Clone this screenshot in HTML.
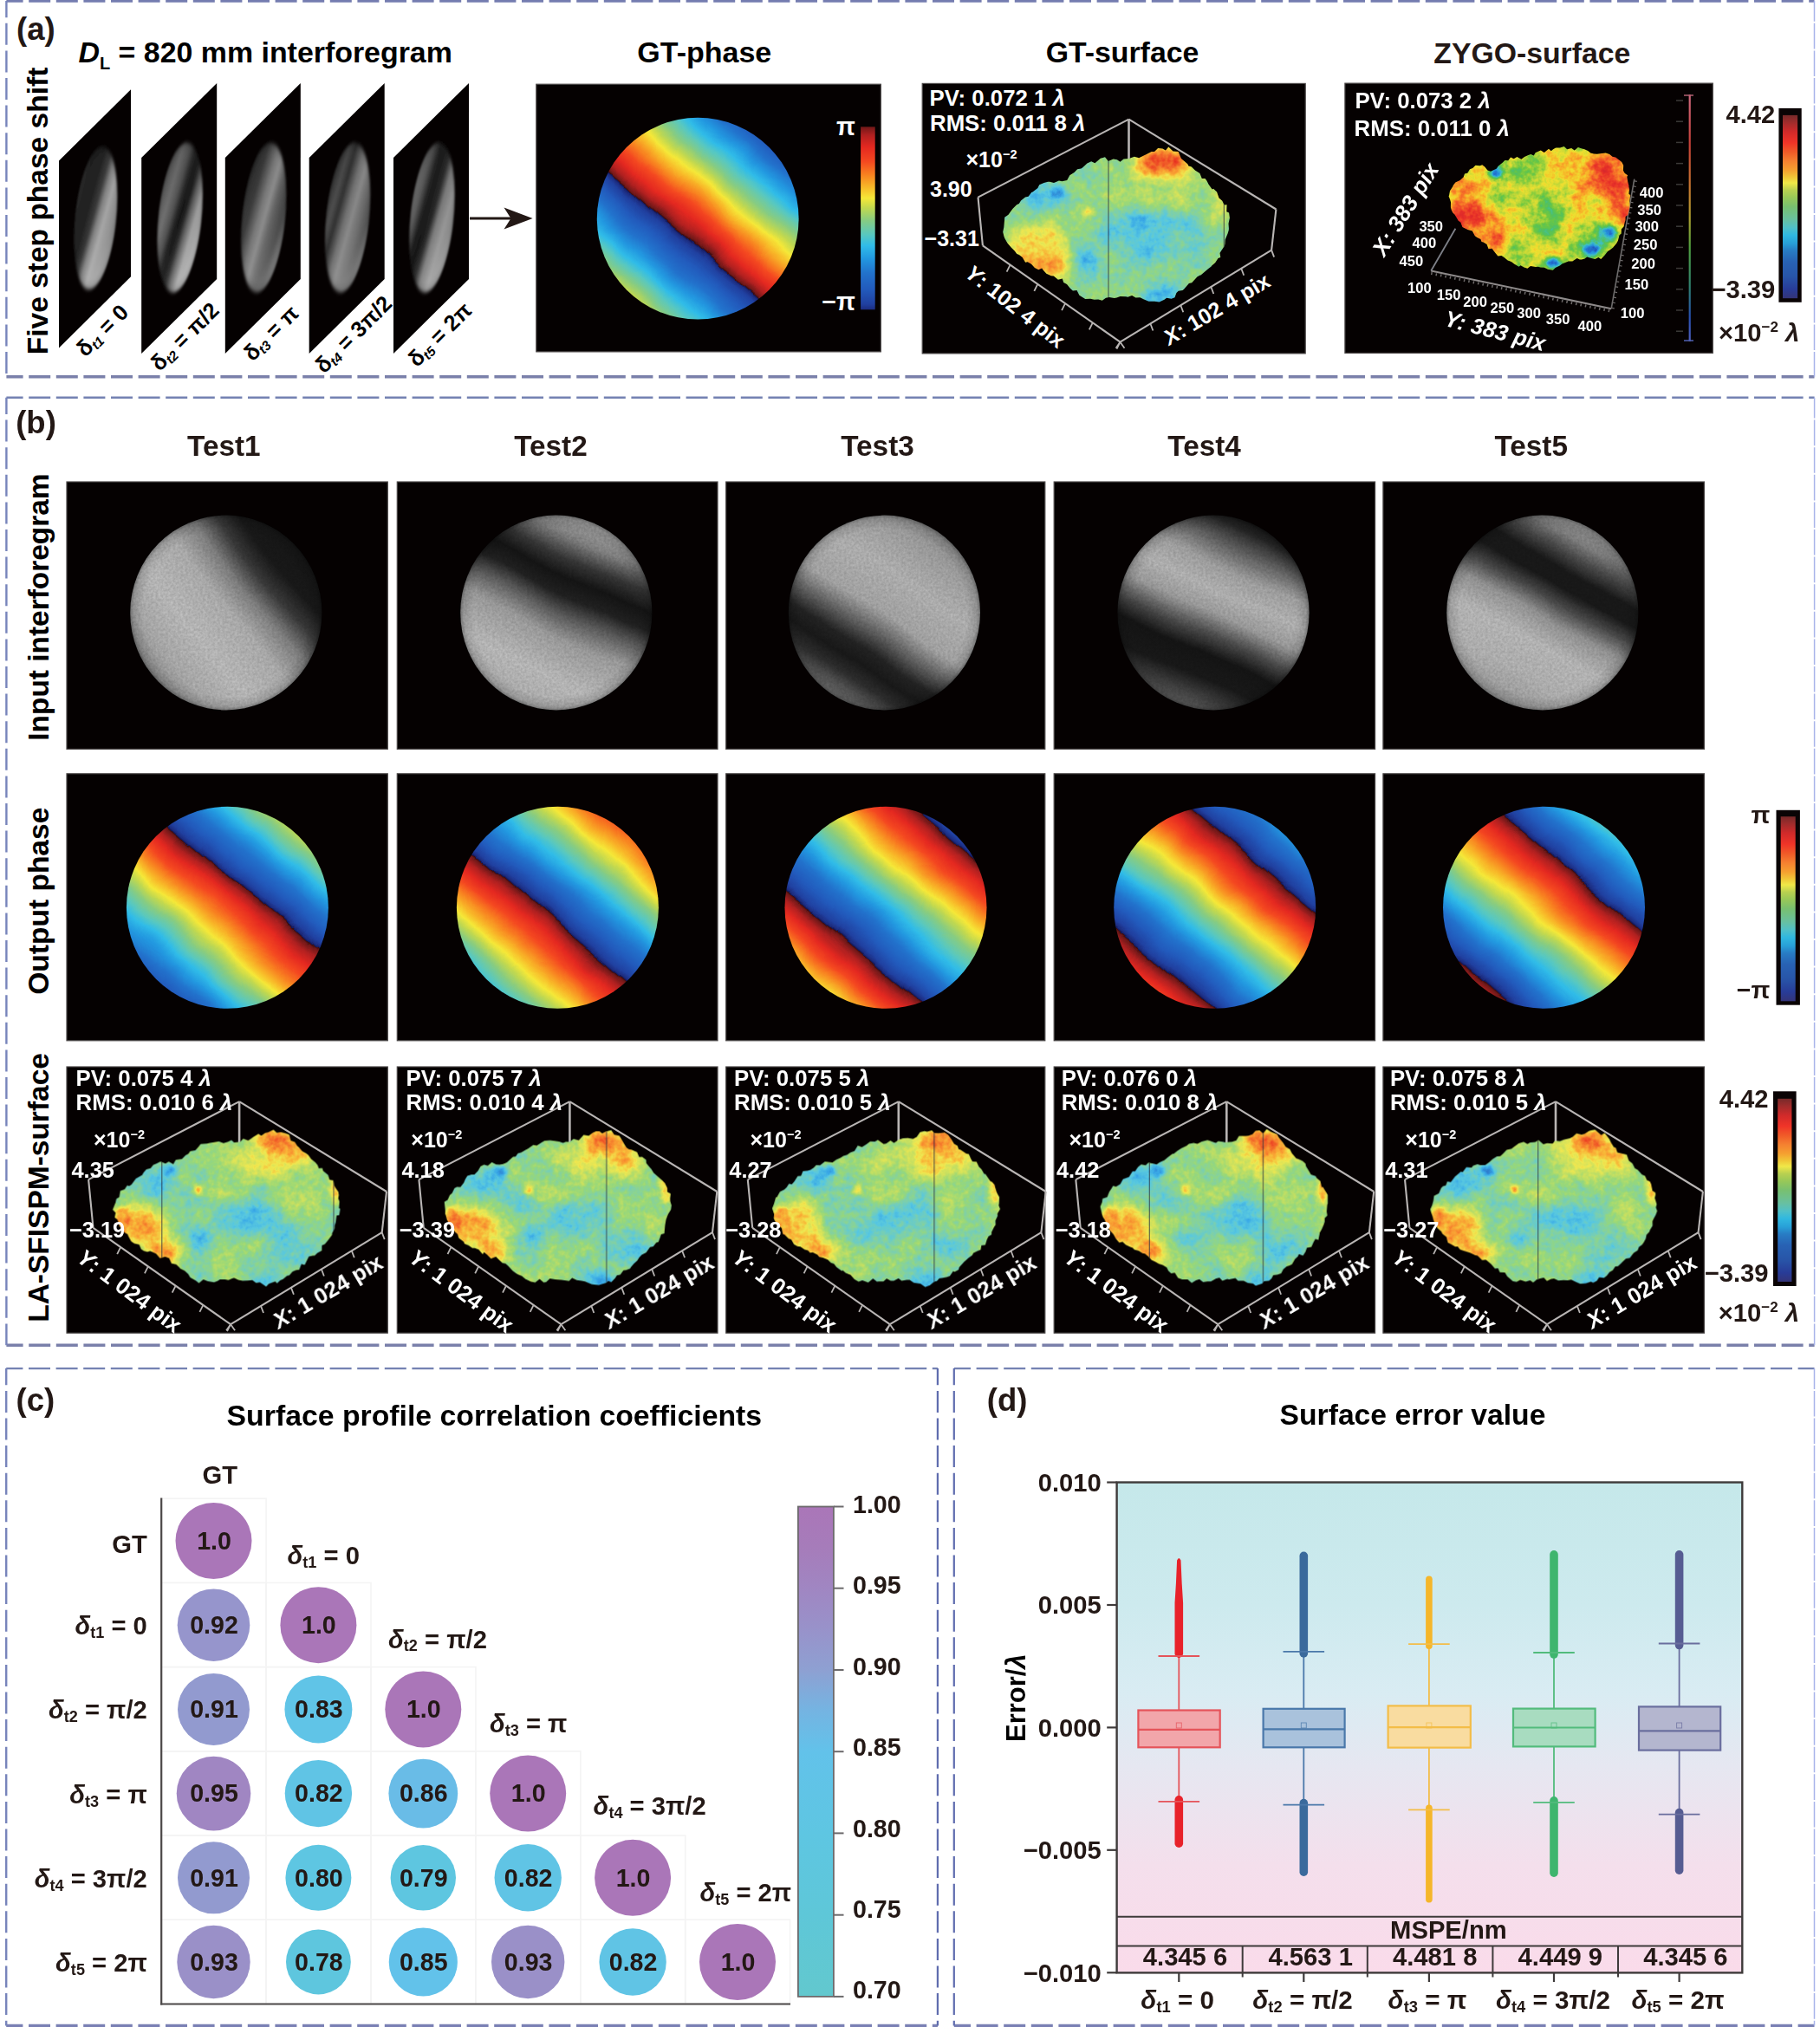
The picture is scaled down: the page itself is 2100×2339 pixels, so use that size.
<!DOCTYPE html>
<html lang="en"><head><meta charset="utf-8"><title>Figure</title>
<style>
html,body{margin:0;padding:0;background:#fff;}
svg{display:block;font-family:"Liberation Sans", sans-serif;}
text{font-family:"Liberation Sans", sans-serif;}
</style></head><body>
<svg width="2100" height="2339" viewBox="0 0 2100 2339">
<defs>
<linearGradient id="cbJet" x1="0" y1="0" x2="0" y2="1"><stop offset="0.000" stop-color="#782a2a"/><stop offset="0.040" stop-color="#a02c2c"/><stop offset="0.090" stop-color="#d02a2a"/><stop offset="0.150" stop-color="#f03428"/><stop offset="0.200" stop-color="#f05a28"/><stop offset="0.250" stop-color="#f58030"/><stop offset="0.300" stop-color="#f5a030"/><stop offset="0.340" stop-color="#f0c838"/><stop offset="0.370" stop-color="#f0e848"/><stop offset="0.410" stop-color="#b8d050"/><stop offset="0.450" stop-color="#98c858"/><stop offset="0.500" stop-color="#78c070"/><stop offset="0.570" stop-color="#68c0a0"/><stop offset="0.615" stop-color="#50c0c8"/><stop offset="0.655" stop-color="#30b8e0"/><stop offset="0.700" stop-color="#28a0d8"/><stop offset="0.740" stop-color="#287cc4"/><stop offset="0.800" stop-color="#2862b4"/><stop offset="0.880" stop-color="#2855a8"/><stop offset="0.950" stop-color="#283c98"/><stop offset="1.000" stop-color="#343478"/></linearGradient>
<linearGradient id="cbPh" x1="0" y1="0" x2="0" y2="1"><stop offset="0.000" stop-color="#701818"/><stop offset="0.045" stop-color="#b02020"/><stop offset="0.110" stop-color="#e42820"/><stop offset="0.190" stop-color="#f44820"/><stop offset="0.260" stop-color="#f88020"/><stop offset="0.330" stop-color="#f8b828"/><stop offset="0.390" stop-color="#f5e838"/><stop offset="0.445" stop-color="#c0d850"/><stop offset="0.510" stop-color="#88cc80"/><stop offset="0.590" stop-color="#58c8c0"/><stop offset="0.650" stop-color="#30bce8"/><stop offset="0.720" stop-color="#2298e0"/><stop offset="0.800" stop-color="#2272cc"/><stop offset="0.890" stop-color="#225abc"/><stop offset="0.970" stop-color="#2040a0"/><stop offset="1.000" stop-color="#1c2c80"/></linearGradient>
<linearGradient id="igT1" x1="0.106" y1="0.808" x2="0.894" y2="0.192"><stop offset="0" stop-color="#888888"/><stop offset="0.12" stop-color="#a4a4a4"/><stop offset="0.3" stop-color="#b4b4b4"/><stop offset="0.52" stop-color="#a8a8a8"/><stop offset="0.66" stop-color="#7c7c7c"/><stop offset="0.77" stop-color="#383838"/><stop offset="0.87" stop-color="#181818"/><stop offset="1" stop-color="#161616"/></linearGradient>
<linearGradient id="igT2" x1="0.289" y1="0.953" x2="0.711" y2="0.047"><stop offset="0" stop-color="#a8a8a8"/><stop offset="0.2" stop-color="#b4b4b4"/><stop offset="0.4" stop-color="#989898"/><stop offset="0.52" stop-color="#585858"/><stop offset="0.61" stop-color="#202020"/><stop offset="0.7" stop-color="#141414"/><stop offset="0.79" stop-color="#343434"/><stop offset="0.9" stop-color="#808080"/><stop offset="1" stop-color="#989898"/></linearGradient>
<linearGradient id="igT3" x1="0.228" y1="0.919" x2="0.772" y2="0.081"><stop offset="0" stop-color="#6c6c6c"/><stop offset="0.05" stop-color="#545454"/><stop offset="0.12" stop-color="#2c2c2c"/><stop offset="0.2" stop-color="#181818"/><stop offset="0.28" stop-color="#222222"/><stop offset="0.38" stop-color="#5c5c5c"/><stop offset="0.5" stop-color="#a0a0a0"/><stop offset="0.7" stop-color="#acacac"/><stop offset="0.9" stop-color="#989898"/><stop offset="1" stop-color="#848484"/></linearGradient>
<linearGradient id="igT4" x1="0.289" y1="0.953" x2="0.711" y2="0.047"><stop offset="0" stop-color="#5a5a5a"/><stop offset="0.07" stop-color="#3c3c3c"/><stop offset="0.16" stop-color="#181818"/><stop offset="0.28" stop-color="#141414"/><stop offset="0.38" stop-color="#484848"/><stop offset="0.5" stop-color="#989898"/><stop offset="0.62" stop-color="#aeaeae"/><stop offset="0.74" stop-color="#9c9c9c"/><stop offset="0.86" stop-color="#585858"/><stop offset="0.95" stop-color="#242424"/><stop offset="1" stop-color="#181818"/></linearGradient>
<linearGradient id="igT5" x1="0.250" y1="0.933" x2="0.750" y2="0.067"><stop offset="0" stop-color="#989898"/><stop offset="0.16" stop-color="#acacac"/><stop offset="0.34" stop-color="#b2b2b2"/><stop offset="0.48" stop-color="#909090"/><stop offset="0.58" stop-color="#484848"/><stop offset="0.67" stop-color="#181818"/><stop offset="0.76" stop-color="#181818"/><stop offset="0.85" stop-color="#484848"/><stop offset="0.93" stop-color="#7c7c7c"/><stop offset="1" stop-color="#8c8c8c"/></linearGradient>
<linearGradient id="igA1" x1="0.179" y1="0.883" x2="0.821" y2="0.117"><stop offset="0" stop-color="#505050"/><stop offset="0.15" stop-color="#808080"/><stop offset="0.32" stop-color="#a4a4a4"/><stop offset="0.45" stop-color="#808080"/><stop offset="0.56" stop-color="#383838"/><stop offset="0.7" stop-color="#1e1e1e"/><stop offset="0.9" stop-color="#202020"/><stop offset="1" stop-color="#383838"/></linearGradient>
<linearGradient id="igA2" x1="0.179" y1="0.883" x2="0.821" y2="0.117"><stop offset="0" stop-color="#808080"/><stop offset="0.2" stop-color="#949494"/><stop offset="0.33" stop-color="#585858"/><stop offset="0.42" stop-color="#202020"/><stop offset="0.5" stop-color="#161616"/><stop offset="0.58" stop-color="#242424"/><stop offset="0.68" stop-color="#505050"/><stop offset="0.82" stop-color="#747474"/><stop offset="1" stop-color="#606060"/></linearGradient>
<linearGradient id="igA3" x1="0.179" y1="0.883" x2="0.821" y2="0.117"><stop offset="0" stop-color="#282828"/><stop offset="0.15" stop-color="#2c2c2c"/><stop offset="0.35" stop-color="#606060"/><stop offset="0.48" stop-color="#8c8c8c"/><stop offset="0.6" stop-color="#787878"/><stop offset="0.8" stop-color="#3a3a3a"/><stop offset="1" stop-color="#303030"/></linearGradient>
<linearGradient id="igA4" x1="0.179" y1="0.883" x2="0.821" y2="0.117"><stop offset="0" stop-color="#282828"/><stop offset="0.1" stop-color="#303030"/><stop offset="0.25" stop-color="#606060"/><stop offset="0.42" stop-color="#888888"/><stop offset="0.55" stop-color="#707070"/><stop offset="0.72" stop-color="#2c2c2c"/><stop offset="0.85" stop-color="#505050"/><stop offset="1" stop-color="#383838"/></linearGradient>
<linearGradient id="igA5" x1="0.179" y1="0.883" x2="0.821" y2="0.117"><stop offset="0" stop-color="#585858"/><stop offset="0.22" stop-color="#8c8c8c"/><stop offset="0.38" stop-color="#787878"/><stop offset="0.5" stop-color="#282828"/><stop offset="0.62" stop-color="#161616"/><stop offset="0.72" stop-color="#1c1c1c"/><stop offset="0.86" stop-color="#606060"/><stop offset="1" stop-color="#848484"/></linearGradient>
<radialGradient id="vig" cx="0.5" cy="0.5" r="0.5"><stop offset="0" stop-color="#000" stop-opacity="0"/><stop offset="0.86" stop-color="#000" stop-opacity="0"/><stop offset="0.96" stop-color="#000" stop-opacity="0.12"/><stop offset="1" stop-color="#000" stop-opacity="0.35"/></radialGradient>
<filter id="grain" x="0" y="0" width="1" height="1" color-interpolation-filters="sRGB"><feTurbulence type="fractalNoise" baseFrequency="0.35" numOctaves="2" seed="4" result="n"/><feColorMatrix in="n" type="matrix" values="1 0 0 0 0 1 0 0 0 0 1 0 0 0 0 0 0 0 0 1" result="g"/><feComposite in="SourceGraphic" in2="g" operator="arithmetic" k1="0.24" k2="0.88" k3="0" k4="0" result="c"/><feComposite in="c" in2="SourceGraphic" operator="in"/></filter>
<filter id="wav1" x="-0.05" y="-0.05" width="1.1" height="1.1" color-interpolation-filters="sRGB"><feTurbulence type="fractalNoise" baseFrequency="0.012" numOctaves="3" seed="7" result="n"/><feDisplacementMap in="SourceGraphic" in2="n" scale="16" xChannelSelector="R" yChannelSelector="G"/></filter>
<filter id="wav2" x="-0.05" y="-0.05" width="1.1" height="1.1" color-interpolation-filters="sRGB"><feTurbulence type="fractalNoise" baseFrequency="0.012" numOctaves="3" seed="12" result="n"/><feDisplacementMap in="SourceGraphic" in2="n" scale="16" xChannelSelector="R" yChannelSelector="G"/></filter>
<filter id="wav3" x="-0.05" y="-0.05" width="1.1" height="1.1" color-interpolation-filters="sRGB"><feTurbulence type="fractalNoise" baseFrequency="0.012" numOctaves="3" seed="17" result="n"/><feDisplacementMap in="SourceGraphic" in2="n" scale="16" xChannelSelector="R" yChannelSelector="G"/></filter>
<filter id="wav4" x="-0.05" y="-0.05" width="1.1" height="1.1" color-interpolation-filters="sRGB"><feTurbulence type="fractalNoise" baseFrequency="0.012" numOctaves="3" seed="22" result="n"/><feDisplacementMap in="SourceGraphic" in2="n" scale="16" xChannelSelector="R" yChannelSelector="G"/></filter>
<filter id="wav5" x="-0.05" y="-0.05" width="1.1" height="1.1" color-interpolation-filters="sRGB"><feTurbulence type="fractalNoise" baseFrequency="0.012" numOctaves="3" seed="27" result="n"/><feDisplacementMap in="SourceGraphic" in2="n" scale="16" xChannelSelector="R" yChannelSelector="G"/></filter>
<filter id="wav6" x="-0.05" y="-0.05" width="1.1" height="1.1" color-interpolation-filters="sRGB"><feTurbulence type="fractalNoise" baseFrequency="0.012" numOctaves="3" seed="32" result="n"/><feDisplacementMap in="SourceGraphic" in2="n" scale="16" xChannelSelector="R" yChannelSelector="G"/></filter>
<filter id="wav7" x="-0.05" y="-0.05" width="1.1" height="1.1" color-interpolation-filters="sRGB"><feTurbulence type="fractalNoise" baseFrequency="0.012" numOctaves="3" seed="37" result="n"/><feDisplacementMap in="SourceGraphic" in2="n" scale="16" xChannelSelector="R" yChannelSelector="G"/></filter>
<filter id="wavI1" x="-0.05" y="-0.05" width="1.1" height="1.1" color-interpolation-filters="sRGB"><feTurbulence type="fractalNoise" baseFrequency="0.007" numOctaves="2" seed="4" result="n"/><feDisplacementMap in="SourceGraphic" in2="n" scale="18" xChannelSelector="R" yChannelSelector="G"/></filter>
<filter id="wavI2" x="-0.05" y="-0.05" width="1.1" height="1.1" color-interpolation-filters="sRGB"><feTurbulence type="fractalNoise" baseFrequency="0.007" numOctaves="2" seed="7" result="n"/><feDisplacementMap in="SourceGraphic" in2="n" scale="18" xChannelSelector="R" yChannelSelector="G"/></filter>
<filter id="wavI3" x="-0.05" y="-0.05" width="1.1" height="1.1" color-interpolation-filters="sRGB"><feTurbulence type="fractalNoise" baseFrequency="0.007" numOctaves="2" seed="10" result="n"/><feDisplacementMap in="SourceGraphic" in2="n" scale="18" xChannelSelector="R" yChannelSelector="G"/></filter>
<filter id="wavI4" x="-0.05" y="-0.05" width="1.1" height="1.1" color-interpolation-filters="sRGB"><feTurbulence type="fractalNoise" baseFrequency="0.007" numOctaves="2" seed="13" result="n"/><feDisplacementMap in="SourceGraphic" in2="n" scale="18" xChannelSelector="R" yChannelSelector="G"/></filter>
<filter id="wavI5" x="-0.05" y="-0.05" width="1.1" height="1.1" color-interpolation-filters="sRGB"><feTurbulence type="fractalNoise" baseFrequency="0.007" numOctaves="2" seed="16" result="n"/><feDisplacementMap in="SourceGraphic" in2="n" scale="18" xChannelSelector="R" yChannelSelector="G"/></filter>
<linearGradient id="tipA" x1="0.7" y1="0" x2="0.3" y2="1"><stop offset="0" stop-color="#000" stop-opacity="0.25"/><stop offset="0.5" stop-color="#888" stop-opacity="0"/><stop offset="0.8" stop-color="#fff" stop-opacity="0.18"/><stop offset="1" stop-color="#fff" stop-opacity="0.5"/></linearGradient>
<filter id="blurA" x="-0.1" y="-0.1" width="1.2" height="1.2"><feGaussianBlur stdDeviation="5 3"/></filter>
<linearGradient id="pgGT" gradientUnits="userSpaceOnUse" spreadMethod="repeat" x1="788.6" y1="272.1" x2="683.7" y2="398.0"><stop offset="0" stop-color="#141450"/><stop offset="0.012" stop-color="#1c2c80"/><stop offset="0.041" stop-color="#2040a0"/><stop offset="0.119" stop-color="#225abc"/><stop offset="0.207" stop-color="#2272cc"/><stop offset="0.285" stop-color="#2298e0"/><stop offset="0.354" stop-color="#30bce8"/><stop offset="0.412" stop-color="#58c8c0"/><stop offset="0.490" stop-color="#88cc80"/><stop offset="0.554" stop-color="#c0d850"/><stop offset="0.607" stop-color="#f5e838"/><stop offset="0.666" stop-color="#f8b828"/><stop offset="0.734" stop-color="#f88020"/><stop offset="0.803" stop-color="#f44820"/><stop offset="0.881" stop-color="#e42820"/><stop offset="0.944" stop-color="#b02020"/><stop offset="0.988" stop-color="#701818"/><stop offset="1" stop-color="#3a0c10"/></linearGradient>
<clipPath id="pcpgGT"><circle cx="805.2" cy="252.2" r="116.4"/></clipPath>
<filter id="cmS1" x="0" y="0" width="1" height="1" color-interpolation-filters="sRGB"><feTurbulence type="fractalNoise" baseFrequency="0.03" numOctaves="2" seed="8" result="n"/><feColorMatrix in="n" type="matrix" values="1 0 0 0 0 1 0 0 0 0 1 0 0 0 0 0 0 0 0 1" result="g"/><feTurbulence type="fractalNoise" baseFrequency="0.16" numOctaves="2" seed="9" result="n2"/><feColorMatrix in="n2" type="matrix" values="1 0 0 0 0 1 0 0 0 0 1 0 0 0 0 0 0 0 0 1" result="g2"/><feComposite in="SourceGraphic" in2="g" operator="arithmetic" k1="0" k2="1" k3="0.22" k4="-0.110" result="h1"/><feComposite in="h1" in2="g2" operator="arithmetic" k1="0" k2="1" k3="0.16" k4="-0.080" result="h"/><feComponentTransfer in="h"><feFuncR type="table" tableValues="0.165 0.163 0.162 0.161 0.159 0.158 0.159 0.172 0.186 0.199 0.213 0.236 0.272 0.308 0.344 0.388 0.433 0.477 0.517 0.552 0.586 0.640 0.700 0.760 0.819 0.876 0.934 0.951 0.963 0.973 0.973 0.973 0.963 0.952 0.940 0.927 0.913 0.834 0.731 0.627"/><feFuncG type="table" tableValues="0.227 0.258 0.289 0.320 0.351 0.382 0.416 0.470 0.523 0.577 0.630 0.676 0.711 0.747 0.783 0.793 0.802 0.811 0.821 0.832 0.844 0.854 0.864 0.874 0.885 0.897 0.908 0.850 0.781 0.712 0.645 0.578 0.500 0.420 0.340 0.273 0.206 0.171 0.148 0.125"/><feFuncB type="table" tableValues="0.565 0.597 0.629 0.661 0.693 0.726 0.758 0.791 0.825 0.859 0.892 0.906 0.897 0.888 0.879 0.818 0.756 0.693 0.628 0.559 0.490 0.449 0.419 0.389 0.363 0.340 0.317 0.284 0.249 0.218 0.204 0.191 0.179 0.168 0.156 0.143 0.129 0.125 0.125 0.125"/></feComponentTransfer></filter>
<filter id="cmS2" x="0" y="0" width="1" height="1" color-interpolation-filters="sRGB"><feTurbulence type="fractalNoise" baseFrequency="0.03" numOctaves="2" seed="15" result="n"/><feColorMatrix in="n" type="matrix" values="1 0 0 0 0 1 0 0 0 0 1 0 0 0 0 0 0 0 0 1" result="g"/><feTurbulence type="fractalNoise" baseFrequency="0.16" numOctaves="2" seed="16" result="n2"/><feColorMatrix in="n2" type="matrix" values="1 0 0 0 0 1 0 0 0 0 1 0 0 0 0 0 0 0 0 1" result="g2"/><feComposite in="SourceGraphic" in2="g" operator="arithmetic" k1="0" k2="1" k3="0.22" k4="-0.110" result="h1"/><feComposite in="h1" in2="g2" operator="arithmetic" k1="0" k2="1" k3="0.16" k4="-0.080" result="h"/><feComponentTransfer in="h"><feFuncR type="table" tableValues="0.165 0.163 0.162 0.161 0.159 0.158 0.159 0.172 0.186 0.199 0.213 0.236 0.272 0.308 0.344 0.388 0.433 0.477 0.517 0.552 0.586 0.640 0.700 0.760 0.819 0.876 0.934 0.951 0.963 0.973 0.973 0.973 0.963 0.952 0.940 0.927 0.913 0.834 0.731 0.627"/><feFuncG type="table" tableValues="0.227 0.258 0.289 0.320 0.351 0.382 0.416 0.470 0.523 0.577 0.630 0.676 0.711 0.747 0.783 0.793 0.802 0.811 0.821 0.832 0.844 0.854 0.864 0.874 0.885 0.897 0.908 0.850 0.781 0.712 0.645 0.578 0.500 0.420 0.340 0.273 0.206 0.171 0.148 0.125"/><feFuncB type="table" tableValues="0.565 0.597 0.629 0.661 0.693 0.726 0.758 0.791 0.825 0.859 0.892 0.906 0.897 0.888 0.879 0.818 0.756 0.693 0.628 0.559 0.490 0.449 0.419 0.389 0.363 0.340 0.317 0.284 0.249 0.218 0.204 0.191 0.179 0.168 0.156 0.143 0.129 0.125 0.125 0.125"/></feComponentTransfer></filter>
<filter id="cmS3" x="0" y="0" width="1" height="1" color-interpolation-filters="sRGB"><feTurbulence type="fractalNoise" baseFrequency="0.03" numOctaves="2" seed="22" result="n"/><feColorMatrix in="n" type="matrix" values="1 0 0 0 0 1 0 0 0 0 1 0 0 0 0 0 0 0 0 1" result="g"/><feTurbulence type="fractalNoise" baseFrequency="0.16" numOctaves="2" seed="23" result="n2"/><feColorMatrix in="n2" type="matrix" values="1 0 0 0 0 1 0 0 0 0 1 0 0 0 0 0 0 0 0 1" result="g2"/><feComposite in="SourceGraphic" in2="g" operator="arithmetic" k1="0" k2="1" k3="0.22" k4="-0.110" result="h1"/><feComposite in="h1" in2="g2" operator="arithmetic" k1="0" k2="1" k3="0.16" k4="-0.080" result="h"/><feComponentTransfer in="h"><feFuncR type="table" tableValues="0.165 0.163 0.162 0.161 0.159 0.158 0.159 0.172 0.186 0.199 0.213 0.236 0.272 0.308 0.344 0.388 0.433 0.477 0.517 0.552 0.586 0.640 0.700 0.760 0.819 0.876 0.934 0.951 0.963 0.973 0.973 0.973 0.963 0.952 0.940 0.927 0.913 0.834 0.731 0.627"/><feFuncG type="table" tableValues="0.227 0.258 0.289 0.320 0.351 0.382 0.416 0.470 0.523 0.577 0.630 0.676 0.711 0.747 0.783 0.793 0.802 0.811 0.821 0.832 0.844 0.854 0.864 0.874 0.885 0.897 0.908 0.850 0.781 0.712 0.645 0.578 0.500 0.420 0.340 0.273 0.206 0.171 0.148 0.125"/><feFuncB type="table" tableValues="0.565 0.597 0.629 0.661 0.693 0.726 0.758 0.791 0.825 0.859 0.892 0.906 0.897 0.888 0.879 0.818 0.756 0.693 0.628 0.559 0.490 0.449 0.419 0.389 0.363 0.340 0.317 0.284 0.249 0.218 0.204 0.191 0.179 0.168 0.156 0.143 0.129 0.125 0.125 0.125"/></feComponentTransfer></filter>
<filter id="cmS4" x="0" y="0" width="1" height="1" color-interpolation-filters="sRGB"><feTurbulence type="fractalNoise" baseFrequency="0.03" numOctaves="2" seed="29" result="n"/><feColorMatrix in="n" type="matrix" values="1 0 0 0 0 1 0 0 0 0 1 0 0 0 0 0 0 0 0 1" result="g"/><feTurbulence type="fractalNoise" baseFrequency="0.16" numOctaves="2" seed="30" result="n2"/><feColorMatrix in="n2" type="matrix" values="1 0 0 0 0 1 0 0 0 0 1 0 0 0 0 0 0 0 0 1" result="g2"/><feComposite in="SourceGraphic" in2="g" operator="arithmetic" k1="0" k2="1" k3="0.22" k4="-0.110" result="h1"/><feComposite in="h1" in2="g2" operator="arithmetic" k1="0" k2="1" k3="0.16" k4="-0.080" result="h"/><feComponentTransfer in="h"><feFuncR type="table" tableValues="0.165 0.163 0.162 0.161 0.159 0.158 0.159 0.172 0.186 0.199 0.213 0.236 0.272 0.308 0.344 0.388 0.433 0.477 0.517 0.552 0.586 0.640 0.700 0.760 0.819 0.876 0.934 0.951 0.963 0.973 0.973 0.973 0.963 0.952 0.940 0.927 0.913 0.834 0.731 0.627"/><feFuncG type="table" tableValues="0.227 0.258 0.289 0.320 0.351 0.382 0.416 0.470 0.523 0.577 0.630 0.676 0.711 0.747 0.783 0.793 0.802 0.811 0.821 0.832 0.844 0.854 0.864 0.874 0.885 0.897 0.908 0.850 0.781 0.712 0.645 0.578 0.500 0.420 0.340 0.273 0.206 0.171 0.148 0.125"/><feFuncB type="table" tableValues="0.565 0.597 0.629 0.661 0.693 0.726 0.758 0.791 0.825 0.859 0.892 0.906 0.897 0.888 0.879 0.818 0.756 0.693 0.628 0.559 0.490 0.449 0.419 0.389 0.363 0.340 0.317 0.284 0.249 0.218 0.204 0.191 0.179 0.168 0.156 0.143 0.129 0.125 0.125 0.125"/></feComponentTransfer></filter>
<filter id="cmS5" x="0" y="0" width="1" height="1" color-interpolation-filters="sRGB"><feTurbulence type="fractalNoise" baseFrequency="0.03" numOctaves="2" seed="36" result="n"/><feColorMatrix in="n" type="matrix" values="1 0 0 0 0 1 0 0 0 0 1 0 0 0 0 0 0 0 0 1" result="g"/><feTurbulence type="fractalNoise" baseFrequency="0.16" numOctaves="2" seed="37" result="n2"/><feColorMatrix in="n2" type="matrix" values="1 0 0 0 0 1 0 0 0 0 1 0 0 0 0 0 0 0 0 1" result="g2"/><feComposite in="SourceGraphic" in2="g" operator="arithmetic" k1="0" k2="1" k3="0.22" k4="-0.110" result="h1"/><feComposite in="h1" in2="g2" operator="arithmetic" k1="0" k2="1" k3="0.16" k4="-0.080" result="h"/><feComponentTransfer in="h"><feFuncR type="table" tableValues="0.165 0.163 0.162 0.161 0.159 0.158 0.159 0.172 0.186 0.199 0.213 0.236 0.272 0.308 0.344 0.388 0.433 0.477 0.517 0.552 0.586 0.640 0.700 0.760 0.819 0.876 0.934 0.951 0.963 0.973 0.973 0.973 0.963 0.952 0.940 0.927 0.913 0.834 0.731 0.627"/><feFuncG type="table" tableValues="0.227 0.258 0.289 0.320 0.351 0.382 0.416 0.470 0.523 0.577 0.630 0.676 0.711 0.747 0.783 0.793 0.802 0.811 0.821 0.832 0.844 0.854 0.864 0.874 0.885 0.897 0.908 0.850 0.781 0.712 0.645 0.578 0.500 0.420 0.340 0.273 0.206 0.171 0.148 0.125"/><feFuncB type="table" tableValues="0.565 0.597 0.629 0.661 0.693 0.726 0.758 0.791 0.825 0.859 0.892 0.906 0.897 0.888 0.879 0.818 0.756 0.693 0.628 0.559 0.490 0.449 0.419 0.389 0.363 0.340 0.317 0.284 0.249 0.218 0.204 0.191 0.179 0.168 0.156 0.143 0.129 0.125 0.125 0.125"/></feComponentTransfer></filter>
<filter id="cmS6" x="0" y="0" width="1" height="1" color-interpolation-filters="sRGB"><feTurbulence type="fractalNoise" baseFrequency="0.03" numOctaves="2" seed="43" result="n"/><feColorMatrix in="n" type="matrix" values="1 0 0 0 0 1 0 0 0 0 1 0 0 0 0 0 0 0 0 1" result="g"/><feTurbulence type="fractalNoise" baseFrequency="0.16" numOctaves="2" seed="44" result="n2"/><feColorMatrix in="n2" type="matrix" values="1 0 0 0 0 1 0 0 0 0 1 0 0 0 0 0 0 0 0 1" result="g2"/><feComposite in="SourceGraphic" in2="g" operator="arithmetic" k1="0" k2="1" k3="0.22" k4="-0.110" result="h1"/><feComposite in="h1" in2="g2" operator="arithmetic" k1="0" k2="1" k3="0.16" k4="-0.080" result="h"/><feComponentTransfer in="h"><feFuncR type="table" tableValues="0.165 0.163 0.162 0.161 0.159 0.158 0.159 0.172 0.186 0.199 0.213 0.236 0.272 0.308 0.344 0.388 0.433 0.477 0.517 0.552 0.586 0.640 0.700 0.760 0.819 0.876 0.934 0.951 0.963 0.973 0.973 0.973 0.963 0.952 0.940 0.927 0.913 0.834 0.731 0.627"/><feFuncG type="table" tableValues="0.227 0.258 0.289 0.320 0.351 0.382 0.416 0.470 0.523 0.577 0.630 0.676 0.711 0.747 0.783 0.793 0.802 0.811 0.821 0.832 0.844 0.854 0.864 0.874 0.885 0.897 0.908 0.850 0.781 0.712 0.645 0.578 0.500 0.420 0.340 0.273 0.206 0.171 0.148 0.125"/><feFuncB type="table" tableValues="0.565 0.597 0.629 0.661 0.693 0.726 0.758 0.791 0.825 0.859 0.892 0.906 0.897 0.888 0.879 0.818 0.756 0.693 0.628 0.559 0.490 0.449 0.419 0.389 0.363 0.340 0.317 0.284 0.249 0.218 0.204 0.191 0.179 0.168 0.156 0.143 0.129 0.125 0.125 0.125"/></feComponentTransfer></filter>
<filter id="cmZ" x="0" y="0" width="1" height="1" color-interpolation-filters="sRGB"><feTurbulence type="fractalNoise" baseFrequency="0.05" numOctaves="2" seed="11" result="n"/><feColorMatrix in="n" type="matrix" values="1 0 0 0 0 1 0 0 0 0 1 0 0 0 0 0 0 0 0 1" result="g"/><feTurbulence type="fractalNoise" baseFrequency="0.2" numOctaves="2" seed="12" result="n2"/><feColorMatrix in="n2" type="matrix" values="1 0 0 0 0 1 0 0 0 0 1 0 0 0 0 0 0 0 0 1" result="g2"/><feComposite in="SourceGraphic" in2="g" operator="arithmetic" k1="0" k2="1" k3="0.34" k4="-0.170" result="h1"/><feComposite in="h1" in2="g2" operator="arithmetic" k1="0" k2="1" k3="0.18" k4="-0.090" result="h"/><feComponentTransfer in="h"><feFuncR type="table" tableValues="0.125 0.125 0.125 0.125 0.125 0.125 0.126 0.133 0.140 0.147 0.153 0.169 0.196 0.223 0.250 0.268 0.286 0.304 0.334 0.380 0.426 0.512 0.612 0.713 0.794 0.863 0.932 0.951 0.963 0.973 0.973 0.973 0.963 0.952 0.940 0.927 0.913 0.893 0.870 0.847"/><feFuncG type="table" tableValues="0.188 0.215 0.242 0.269 0.295 0.322 0.353 0.407 0.460 0.514 0.568 0.617 0.662 0.706 0.751 0.753 0.753 0.753 0.758 0.770 0.781 0.799 0.819 0.839 0.854 0.865 0.877 0.818 0.749 0.679 0.598 0.518 0.447 0.378 0.310 0.256 0.203 0.180 0.168 0.157"/><feFuncB type="table" tableValues="0.565 0.597 0.629 0.661 0.693 0.726 0.757 0.784 0.811 0.837 0.864 0.862 0.826 0.790 0.754 0.650 0.543 0.435 0.356 0.310 0.264 0.244 0.234 0.224 0.213 0.201 0.190 0.178 0.167 0.157 0.157 0.157 0.157 0.157 0.157 0.157 0.157 0.161 0.167 0.173"/></feComponentTransfer></filter>
<filter id="hb" x="-0.5" y="-0.5" width="2" height="2"><feGaussianBlur stdDeviation="8"/></filter>
<filter id="hbs" x="-0.5" y="-0.5" width="2" height="2"><feGaussianBlur stdDeviation="3"/></filter>
<filter id="hbz" x="-0.5" y="-0.5" width="2" height="2"><feGaussianBlur stdDeviation="8"/></filter>
<clipPath id="blob6"><path d="M54.4 164.4 L55.1 156.4 L55.3 152.9 L59.6 149.8 L62.1 146.3 L64.7 142.9 L69.2 138.4 L71.9 137.0 L74.1 133.7 L79.1 129.6 L82.7 128.8 L86.3 124.2 L87.7 123.6 L93.5 119.2 L95.3 115.4 L100.6 113.1 L105.2 111.9 L107.3 111.9 L112.1 113.0 L118.0 110.7 L121.5 111.3 L127.3 110.0 L130.4 104.4 L135.6 101.2 L139.2 97.3 L143.6 96.6 L145.7 95.1 L150.5 90.7 L155.3 88.3 L159.5 90.3 L165.9 84.8 L171.1 83.4 L174.9 88.0 L180.7 85.5 L185.0 86.3 L188.6 88.8 L192.6 85.7 L198.9 85.2 L204.9 82.9 L210.3 84.4 L214.8 82.2 L219.5 79.8 L224.8 77.2 L228.1 77.1 L232.2 73.0 L237.5 73.5 L241.0 75.7 L244.4 71.7 L249.6 76.5 L255.7 77.1 L259.1 85.1 L261.8 87.4 L266.4 91.3 L267.5 93.5 L271.0 94.7 L275.0 98.7 L280.5 102.0 L282.9 108.0 L286.6 108.0 L288.5 110.6 L290.8 115.0 L294.8 120.7 L296.2 119.8 L300.2 123.6 L302.6 130.6 L306.4 133.9 L308.7 138.7 L311.7 138.3 L311.4 146.3 L314.2 147.5 L315.0 153.7 L314.4 156.3 L313.6 160.1 L314.0 165.6 L313.9 167.6 L312.7 171.7 L309.8 178.6 L309.5 184.1 L308.4 186.9 L305.3 191.3 L303.6 194.0 L304.4 199.1 L301.6 200.1 L298.4 205.0 L294.1 208.9 L293.7 209.7 L290.1 212.4 L285.4 216.4 L281.6 219.5 L281.0 219.7 L277.7 221.4 L274.2 225.0 L271.3 228.4 L268.0 229.2 L262.4 235.6 L260.7 237.0 L255.8 237.9 L253.5 240.0 L251.6 245.3 L247.7 246.9 L242.2 245.8 L239.6 247.8 L233.7 250.6 L228.2 249.8 L221.6 249.8 L216.1 247.6 L211.5 245.4 L206.5 245.7 L202.2 243.0 L197.4 244.9 L195.1 244.4 L188.7 244.2 L184.6 245.7 L181.9 246.0 L175.9 245.1 L172.1 245.9 L167.9 248.8 L163.3 247.6 L158.8 247.9 L154.1 246.9 L148.3 247.1 L141.5 242.8 L138.6 237.2 L134.0 237.7 L130.7 234.6 L127.1 230.1 L123.3 228.1 L121.9 223.7 L117.0 224.9 L111.9 220.6 L108.9 220.3 L103.5 217.8 L99.6 213.5 L98.3 211.6 L94.4 213.4 L90.0 211.1 L86.1 206.8 L81.8 204.3 L79.2 204.9 L75.8 199.0 L72.0 196.0 L69.4 195.1 L66.8 191.7 L63.0 187.8 L58.5 182.6 L55.4 177.2 L54.6 175.0 L53.3 169.9Z"/></clipPath>
<clipPath id="blobZ"><path d="M1671.6 226.4 L1672.1 225.0 L1673.0 220.2 L1676.3 215.2 L1676.7 213.9 L1679.3 210.4 L1684.7 208.1 L1688.6 204.4 L1690.0 200.4 L1693.2 199.8 L1696.0 195.3 L1699.3 193.9 L1702.5 190.8 L1707.7 191.3 L1710.3 190.3 L1713.2 192.4 L1716.4 196.4 L1720.0 197.7 L1725.5 195.3 L1726.9 194.5 L1728.6 191.7 L1733.3 187.9 L1736.4 185.0 L1740.2 185.2 L1743.1 181.4 L1746.7 183.2 L1750.4 181.0 L1755.4 183.7 L1759.0 181.0 L1763.4 179.1 L1766.5 177.9 L1769.7 179.4 L1771.6 176.2 L1777.8 173.6 L1781.8 176.0 L1787.0 171.8 L1789.7 174.3 L1792.1 172.2 L1795.1 170.4 L1800.0 170.6 L1804.8 168.9 L1808.2 172.3 L1813.3 171.0 L1816.7 173.4 L1820.9 169.9 L1825.3 171.4 L1828.3 172.3 L1832.2 174.0 L1835.2 176.5 L1839.0 177.4 L1842.7 177.7 L1848.4 176.9 L1852.7 176.6 L1857.2 177.9 L1860.5 180.7 L1864.1 181.5 L1868.4 184.7 L1871.2 187.1 L1873.2 190.7 L1872.9 196.8 L1874.8 199.9 L1878.2 202.3 L1877.3 204.0 L1878.1 208.9 L1879.5 214.7 L1879.3 214.9 L1880.1 218.4 L1879.4 223.6 L1881.2 225.2 L1880.2 232.2 L1880.5 235.4 L1880.4 239.1 L1879.0 245.3 L1878.4 248.1 L1875.6 250.1 L1875.5 254.1 L1874.5 257.2 L1873.7 261.2 L1870.8 264.5 L1870.7 269.5 L1868.6 271.3 L1866.9 277.7 L1865.1 281.1 L1861.9 284.7 L1861.1 285.8 L1857.4 288.6 L1855.1 289.9 L1851.2 295.0 L1847.2 299.0 L1844.4 297.0 L1840.5 298.9 L1836.1 298.1 L1831.2 296.6 L1828.6 298.6 L1824.9 299.4 L1822.8 299.5 L1819.7 298.1 L1814.3 301.4 L1809.7 301.5 L1802.4 304.5 L1799.9 306.4 L1794.7 309.0 L1791.9 311.7 L1786.0 310.7 L1781.9 308.8 L1777.3 308.5 L1774.8 307.7 L1771.9 308.1 L1766.0 307.1 L1762.4 309.8 L1758.5 308.5 L1754.5 306.2 L1752.6 307.7 L1747.4 304.8 L1743.8 302.0 L1739.7 300.5 L1735.5 297.1 L1732.4 294.9 L1728.3 295.4 L1723.5 289.4 L1721.5 286.7 L1717.5 287.2 L1715.6 282.0 L1711.6 279.5 L1709.5 278.9 L1708.4 276.1 L1705.1 274.5 L1701.8 272.2 L1698.8 266.6 L1693.4 264.9 L1690.3 263.4 L1687.4 261.9 L1685.3 256.5 L1682.7 254.7 L1681.3 252.2 L1678.6 247.8 L1676.3 245.5 L1674.8 242.5 L1673.9 239.3 L1674.0 233.2 L1673.0 230.1Z"/></clipPath>
<linearGradient id="zl" x1="0" y1="0" x2="0" y2="1"><stop offset="0" stop-color="#d06a80"/><stop offset="0.2" stop-color="#c84038"/><stop offset="0.38" stop-color="#c87830"/><stop offset="0.5" stop-color="#b0a030"/><stop offset="0.62" stop-color="#50a040"/><stop offset="0.78" stop-color="#308070"/><stop offset="0.9" stop-color="#2850b0"/><stop offset="1" stop-color="#5060c0"/></linearGradient>
<linearGradient id="iguT1" gradientUnits="userSpaceOnUse" x1="173.6" y1="775.1" x2="347.9" y2="638.9"><stop offset="0" stop-color="#888888"/><stop offset="0.12" stop-color="#a4a4a4"/><stop offset="0.3" stop-color="#b4b4b4"/><stop offset="0.52" stop-color="#a8a8a8"/><stop offset="0.66" stop-color="#7c7c7c"/><stop offset="0.77" stop-color="#383838"/><stop offset="0.87" stop-color="#181818"/><stop offset="1" stop-color="#161616"/></linearGradient>
<clipPath id="icT1"><ellipse cx="260.8" cy="707.0" rx="110.6" ry="112.4"/></clipPath>
<linearGradient id="iguT2" gradientUnits="userSpaceOnUse" x1="595.0" y1="807.2" x2="688.5" y2="606.8"><stop offset="0" stop-color="#a8a8a8"/><stop offset="0.2" stop-color="#b4b4b4"/><stop offset="0.4" stop-color="#989898"/><stop offset="0.52" stop-color="#585858"/><stop offset="0.61" stop-color="#202020"/><stop offset="0.7" stop-color="#141414"/><stop offset="0.79" stop-color="#343434"/><stop offset="0.9" stop-color="#808080"/><stop offset="1" stop-color="#989898"/></linearGradient>
<clipPath id="icT2"><ellipse cx="641.8" cy="707.0" rx="110.6" ry="112.4"/></clipPath>
<linearGradient id="iguT3" gradientUnits="userSpaceOnUse" x1="960.1" y1="799.8" x2="1080.6" y2="614.2"><stop offset="0" stop-color="#6c6c6c"/><stop offset="0.05" stop-color="#545454"/><stop offset="0.12" stop-color="#2c2c2c"/><stop offset="0.2" stop-color="#181818"/><stop offset="0.28" stop-color="#222222"/><stop offset="0.38" stop-color="#5c5c5c"/><stop offset="0.5" stop-color="#a0a0a0"/><stop offset="0.7" stop-color="#acacac"/><stop offset="0.9" stop-color="#989898"/><stop offset="1" stop-color="#848484"/></linearGradient>
<clipPath id="icT3"><ellipse cx="1020.4" cy="707.0" rx="110.6" ry="112.4"/></clipPath>
<linearGradient id="iguT4" gradientUnits="userSpaceOnUse" x1="1353.3" y1="807.2" x2="1446.7" y2="606.8"><stop offset="0" stop-color="#5a5a5a"/><stop offset="0.07" stop-color="#3c3c3c"/><stop offset="0.16" stop-color="#181818"/><stop offset="0.28" stop-color="#141414"/><stop offset="0.38" stop-color="#484848"/><stop offset="0.5" stop-color="#989898"/><stop offset="0.62" stop-color="#aeaeae"/><stop offset="0.74" stop-color="#9c9c9c"/><stop offset="0.86" stop-color="#585858"/><stop offset="0.95" stop-color="#242424"/><stop offset="1" stop-color="#181818"/></linearGradient>
<clipPath id="icT4"><ellipse cx="1400.0" cy="707.0" rx="110.6" ry="112.4"/></clipPath>
<linearGradient id="iguT5" gradientUnits="userSpaceOnUse" x1="1724.5" y1="802.8" x2="1835.0" y2="611.2"><stop offset="0" stop-color="#989898"/><stop offset="0.16" stop-color="#acacac"/><stop offset="0.34" stop-color="#b2b2b2"/><stop offset="0.48" stop-color="#909090"/><stop offset="0.58" stop-color="#484848"/><stop offset="0.67" stop-color="#181818"/><stop offset="0.76" stop-color="#181818"/><stop offset="0.85" stop-color="#484848"/><stop offset="0.93" stop-color="#7c7c7c"/><stop offset="1" stop-color="#8c8c8c"/></linearGradient>
<clipPath id="icT5"><ellipse cx="1779.8" cy="707.0" rx="110.6" ry="112.4"/></clipPath>
<linearGradient id="pg0" gradientUnits="userSpaceOnUse" spreadMethod="repeat" x1="280.9" y1="1025.2" x2="385.8" y2="899.2"><stop offset="0" stop-color="#141450"/><stop offset="0.012" stop-color="#1c2c80"/><stop offset="0.041" stop-color="#2040a0"/><stop offset="0.119" stop-color="#225abc"/><stop offset="0.207" stop-color="#2272cc"/><stop offset="0.285" stop-color="#2298e0"/><stop offset="0.354" stop-color="#30bce8"/><stop offset="0.412" stop-color="#58c8c0"/><stop offset="0.490" stop-color="#88cc80"/><stop offset="0.554" stop-color="#c0d850"/><stop offset="0.607" stop-color="#f5e838"/><stop offset="0.666" stop-color="#f8b828"/><stop offset="0.734" stop-color="#f88020"/><stop offset="0.803" stop-color="#f44820"/><stop offset="0.881" stop-color="#e42820"/><stop offset="0.944" stop-color="#b02020"/><stop offset="0.988" stop-color="#701818"/><stop offset="1" stop-color="#3a0c10"/></linearGradient>
<clipPath id="pcpg0"><circle cx="262.4" cy="1047.3" r="116.5"/></clipPath>
<linearGradient id="pg1" gradientUnits="userSpaceOnUse" spreadMethod="repeat" x1="634.2" y1="1058.4" x2="739.1" y2="932.5"><stop offset="0" stop-color="#141450"/><stop offset="0.012" stop-color="#1c2c80"/><stop offset="0.041" stop-color="#2040a0"/><stop offset="0.119" stop-color="#225abc"/><stop offset="0.207" stop-color="#2272cc"/><stop offset="0.285" stop-color="#2298e0"/><stop offset="0.354" stop-color="#30bce8"/><stop offset="0.412" stop-color="#58c8c0"/><stop offset="0.490" stop-color="#88cc80"/><stop offset="0.554" stop-color="#c0d850"/><stop offset="0.607" stop-color="#f5e838"/><stop offset="0.666" stop-color="#f8b828"/><stop offset="0.734" stop-color="#f88020"/><stop offset="0.803" stop-color="#f44820"/><stop offset="0.881" stop-color="#e42820"/><stop offset="0.944" stop-color="#b02020"/><stop offset="0.988" stop-color="#701818"/><stop offset="1" stop-color="#3a0c10"/></linearGradient>
<clipPath id="pcpg1"><circle cx="643.4" cy="1047.3" r="116.5"/></clipPath>
<linearGradient id="pg2" gradientUnits="userSpaceOnUse" spreadMethod="repeat" x1="985.8" y1="1090.8" x2="1090.8" y2="964.8"><stop offset="0" stop-color="#141450"/><stop offset="0.012" stop-color="#1c2c80"/><stop offset="0.041" stop-color="#2040a0"/><stop offset="0.119" stop-color="#225abc"/><stop offset="0.207" stop-color="#2272cc"/><stop offset="0.285" stop-color="#2298e0"/><stop offset="0.354" stop-color="#30bce8"/><stop offset="0.412" stop-color="#58c8c0"/><stop offset="0.490" stop-color="#88cc80"/><stop offset="0.554" stop-color="#c0d850"/><stop offset="0.607" stop-color="#f5e838"/><stop offset="0.666" stop-color="#f8b828"/><stop offset="0.734" stop-color="#f88020"/><stop offset="0.803" stop-color="#f44820"/><stop offset="0.881" stop-color="#e42820"/><stop offset="0.944" stop-color="#b02020"/><stop offset="0.988" stop-color="#701818"/><stop offset="1" stop-color="#3a0c10"/></linearGradient>
<clipPath id="pcpg2"><circle cx="1022.0" cy="1047.3" r="116.5"/></clipPath>
<linearGradient id="pg3" gradientUnits="userSpaceOnUse" spreadMethod="repeat" x1="1447.6" y1="992.2" x2="1552.5" y2="866.3"><stop offset="0" stop-color="#141450"/><stop offset="0.012" stop-color="#1c2c80"/><stop offset="0.041" stop-color="#2040a0"/><stop offset="0.119" stop-color="#225abc"/><stop offset="0.207" stop-color="#2272cc"/><stop offset="0.285" stop-color="#2298e0"/><stop offset="0.354" stop-color="#30bce8"/><stop offset="0.412" stop-color="#58c8c0"/><stop offset="0.490" stop-color="#88cc80"/><stop offset="0.554" stop-color="#c0d850"/><stop offset="0.607" stop-color="#f5e838"/><stop offset="0.666" stop-color="#f8b828"/><stop offset="0.734" stop-color="#f88020"/><stop offset="0.803" stop-color="#f44820"/><stop offset="0.881" stop-color="#e42820"/><stop offset="0.944" stop-color="#b02020"/><stop offset="0.988" stop-color="#701818"/><stop offset="1" stop-color="#3a0c10"/></linearGradient>
<clipPath id="pcpg3"><circle cx="1401.7" cy="1047.3" r="116.5"/></clipPath>
<linearGradient id="pg4" gradientUnits="userSpaceOnUse" spreadMethod="repeat" x1="1814.3" y1="1007.8" x2="1919.3" y2="881.9"><stop offset="0" stop-color="#141450"/><stop offset="0.012" stop-color="#1c2c80"/><stop offset="0.041" stop-color="#2040a0"/><stop offset="0.119" stop-color="#225abc"/><stop offset="0.207" stop-color="#2272cc"/><stop offset="0.285" stop-color="#2298e0"/><stop offset="0.354" stop-color="#30bce8"/><stop offset="0.412" stop-color="#58c8c0"/><stop offset="0.490" stop-color="#88cc80"/><stop offset="0.554" stop-color="#c0d850"/><stop offset="0.607" stop-color="#f5e838"/><stop offset="0.666" stop-color="#f8b828"/><stop offset="0.734" stop-color="#f88020"/><stop offset="0.803" stop-color="#f44820"/><stop offset="0.881" stop-color="#e42820"/><stop offset="0.944" stop-color="#b02020"/><stop offset="0.988" stop-color="#701818"/><stop offset="1" stop-color="#3a0c10"/></linearGradient>
<clipPath id="pcpg4"><circle cx="1781.5" cy="1047.3" r="116.5"/></clipPath>
<clipPath id="blob1"><path d="M52.5 164.5 L55.9 156.3 L56.8 151.9 L60.1 150.0 L61.3 142.8 L66.3 141.1 L69.3 136.4 L71.6 137.2 L74.2 135.5 L79.4 128.5 L80.4 128.1 L86.6 124.4 L88.1 121.8 L91.3 118.1 L96.2 116.8 L99.4 112.8 L103.1 111.3 L107.6 108.9 L113.5 111.2 L117.2 109.1 L122.5 112.1 L125.3 106.9 L132.4 106.0 L136.6 101.8 L139.9 100.1 L141.9 96.9 L147.9 96.0 L151.1 92.6 L154.0 88.8 L161.2 88.2 L164.4 87.4 L170.9 86.6 L175.0 85.8 L180.4 87.8 L185.4 86.3 L189.6 84.2 L192.6 87.1 L199.6 86.2 L203.2 82.5 L208.9 84.8 L215.0 80.6 L220.7 77.0 L224.0 79.3 L228.4 75.9 L231.8 75.3 L238.1 72.3 L241.9 75.8 L246.5 75.1 L251.6 76.2 L256.2 77.9 L258.0 84.8 L262.7 86.4 L265.4 90.7 L267.8 92.9 L271.2 97.0 L275.7 99.5 L278.3 101.6 L281.5 106.1 L286.4 110.0 L289.0 113.0 L290.3 116.7 L294.4 116.6 L295.4 119.8 L301.1 124.5 L302.8 129.9 L307.0 130.8 L308.1 136.8 L309.7 139.3 L312.9 143.9 L313.4 147.7 L312.8 151.6 L314.2 154.9 L313.6 162.7 L315.0 163.6 L313.9 170.8 L310.9 171.3 L309.9 178.9 L308.6 183.1 L308.5 186.1 L305.6 191.9 L305.7 193.5 L302.4 197.9 L300.2 200.7 L297.3 204.2 L293.9 205.8 L293.8 211.8 L288.7 214.4 L285.5 217.5 L283.5 217.6 L278.9 218.4 L277.5 221.2 L274.1 228.3 L270.2 227.2 L267.8 233.7 L264.1 234.2 L260.0 236.1 L256.3 240.3 L253.7 240.7 L249.0 244.8 L245.8 245.9 L242.2 249.6 L240.1 247.3 L232.7 249.9 L229.6 253.2 L222.4 248.3 L218.0 249.1 L213.7 245.7 L208.6 246.3 L202.4 246.6 L197.4 245.6 L192.7 243.2 L190.8 243.7 L186.1 245.8 L182.0 245.0 L176.3 244.9 L173.5 246.7 L169.5 248.3 L162.2 247.0 L157.1 244.9 L152.0 249.3 L148.7 246.4 L142.0 242.7 L139.7 238.7 L135.6 235.1 L130.6 232.5 L129.3 231.0 L125.9 227.7 L120.4 226.4 L117.7 220.5 L113.0 218.8 L107.1 220.4 L103.1 215.7 L102.1 215.0 L95.8 212.2 L92.5 213.3 L88.3 212.0 L85.4 210.1 L83.1 204.7 L77.5 203.5 L73.8 201.1 L70.5 194.8 L70.0 193.0 L65.6 190.5 L62.0 184.3 L60.8 184.4 L58.1 176.0 L54.9 173.4 L56.0 168.1Z"/></clipPath>
<clipPath id="blob2"><path d="M54.9 165.0 L53.9 155.5 L57.7 153.3 L60.1 147.7 L62.8 145.5 L65.6 139.8 L68.4 138.3 L72.4 138.5 L76.3 133.6 L78.0 129.6 L80.4 125.6 L85.2 124.1 L88.6 124.0 L92.7 119.8 L95.7 114.5 L99.7 112.4 L104.0 113.8 L108.7 109.7 L113.6 112.3 L117.5 112.6 L121.8 111.8 L126.0 110.0 L133.1 103.4 L136.1 103.2 L138.8 99.5 L142.5 98.5 L146.8 95.9 L150.6 94.0 L156.5 89.8 L160.5 90.6 L166.0 87.1 L169.5 84.9 L175.9 84.5 L181.5 85.3 L186.5 85.9 L190.9 87.4 L193.9 86.2 L198.6 86.2 L203.0 82.7 L208.9 84.6 L214.6 78.3 L220.5 79.3 L225.1 75.7 L228.9 74.0 L232.9 73.9 L236.0 76.5 L239.9 74.4 L246.4 72.7 L249.9 77.9 L255.8 79.3 L257.9 82.4 L261.5 88.7 L264.1 92.9 L266.8 94.7 L269.7 95.3 L276.2 98.0 L278.7 103.8 L282.1 103.5 L286.7 106.9 L286.9 110.7 L291.4 116.2 L292.8 117.8 L295.4 121.9 L301.1 126.9 L305.1 130.5 L308.5 133.9 L309.0 135.3 L311.2 139.5 L311.2 143.9 L315.0 146.1 L314.4 151.6 L314.5 154.7 L316.0 159.6 L315.3 164.6 L312.2 169.6 L311.3 171.5 L309.6 176.2 L308.5 182.8 L308.0 188.2 L307.7 192.0 L304.0 193.1 L302.5 197.6 L300.9 201.8 L298.4 202.4 L294.9 206.9 L291.1 207.8 L289.0 210.8 L286.7 214.1 L281.7 216.5 L278.8 219.4 L276.5 223.2 L272.6 226.8 L269.2 230.7 L268.1 232.5 L263.4 234.2 L260.6 234.6 L256.9 239.6 L253.0 240.2 L251.0 243.4 L246.5 247.9 L243.0 246.8 L240.3 249.0 L232.2 251.6 L227.0 250.9 L223.8 250.5 L216.1 247.3 L212.2 246.4 L206.6 245.8 L201.3 243.3 L197.8 246.7 L192.7 246.1 L188.7 245.4 L185.0 245.2 L181.8 245.1 L175.7 244.1 L171.3 247.9 L168.6 248.6 L163.8 244.5 L158.7 248.5 L153.8 247.5 L147.4 244.6 L143.3 241.0 L139.0 239.2 L136.7 237.9 L133.0 235.2 L127.6 229.4 L124.6 226.7 L120.9 225.9 L118.0 223.3 L113.4 218.8 L107.8 221.0 L103.4 216.6 L99.5 213.4 L98.1 216.1 L93.6 210.4 L88.9 208.7 L86.2 208.7 L81.8 205.8 L77.1 203.8 L76.3 201.6 L70.6 197.2 L69.2 192.8 L66.5 190.5 L63.1 186.0 L61.1 183.5 L57.0 176.2 L55.5 170.6 L54.9 169.7Z"/></clipPath>
<clipPath id="blob3"><path d="M52.8 163.1 L54.8 158.0 L57.1 150.1 L58.2 150.2 L61.8 143.7 L66.8 141.3 L69.5 138.7 L72.2 134.4 L75.4 135.2 L78.3 131.9 L82.3 125.8 L86.1 125.5 L88.3 119.9 L93.7 119.4 L97.1 118.6 L100.8 116.1 L103.6 112.9 L108.0 113.3 L113.6 109.0 L115.7 109.3 L122.4 110.1 L126.8 106.7 L131.8 104.5 L134.9 102.6 L139.2 101.2 L143.0 98.5 L147.8 96.7 L151.6 90.5 L156.4 92.3 L161.5 88.9 L166.0 85.8 L171.3 86.1 L174.7 84.0 L181.4 88.8 L184.2 88.3 L189.4 84.8 L193.3 87.4 L199.3 83.5 L203.9 81.9 L209.5 81.7 L215.4 82.7 L219.6 80.6 L223.4 75.1 L228.5 73.8 L231.6 74.6 L237.1 73.0 L239.7 76.1 L244.8 76.2 L251.8 75.5 L255.9 78.3 L259.7 83.5 L262.7 88.5 L266.6 90.8 L268.0 94.7 L270.3 95.5 L276.7 99.8 L279.8 100.5 L282.2 106.1 L284.0 109.1 L288.6 109.3 L291.4 114.9 L294.4 117.9 L297.4 123.3 L299.0 123.6 L304.4 131.5 L306.8 132.7 L309.4 135.8 L310.3 139.5 L311.9 144.6 L313.3 147.3 L315.0 149.9 L314.6 157.6 L314.2 159.4 L315.9 163.8 L312.7 169.0 L312.9 171.7 L310.4 177.1 L310.6 181.9 L309.0 184.3 L305.9 190.4 L305.9 193.2 L302.4 195.3 L300.6 198.9 L298.7 205.2 L294.2 205.7 L293.4 210.7 L290.1 211.9 L285.0 214.4 L283.7 216.9 L279.2 220.3 L276.2 223.0 L274.4 224.4 L268.6 230.9 L267.9 233.8 L263.4 236.3 L261.6 235.5 L257.8 241.1 L254.4 242.2 L249.6 243.3 L245.6 243.8 L242.9 246.8 L239.8 247.5 L234.7 251.7 L229.4 253.7 L224.0 250.0 L216.1 248.7 L211.5 245.5 L208.0 245.5 L202.2 246.4 L198.5 243.8 L193.2 246.6 L189.6 246.5 L184.9 243.9 L181.2 247.2 L175.8 247.3 L173.7 247.6 L169.1 244.1 L163.6 248.5 L156.9 246.1 L152.5 247.6 L147.6 244.7 L143.3 239.8 L137.6 237.5 L134.3 234.4 L133.1 235.3 L127.0 230.7 L124.1 227.0 L120.6 225.7 L117.0 222.2 L111.6 219.9 L107.1 218.9 L105.1 216.4 L99.5 213.8 L96.6 214.3 L94.0 211.6 L90.3 210.6 L85.5 207.3 L81.9 206.7 L78.0 204.5 L74.9 199.1 L71.9 198.1 L67.3 193.6 L65.1 192.6 L63.8 185.8 L60.8 183.6 L56.1 177.7 L54.6 174.4 L55.1 169.7Z"/></clipPath>
<clipPath id="blob4"><path d="M52.8 161.0 L54.9 155.9 L55.5 151.7 L60.8 150.0 L63.3 143.7 L65.5 140.4 L67.6 136.9 L71.0 138.1 L75.9 134.9 L79.1 129.3 L81.2 128.5 L86.0 126.7 L90.0 120.2 L93.0 120.3 L96.4 115.3 L100.1 112.2 L105.2 113.2 L108.3 110.2 L113.7 111.3 L117.9 112.3 L121.1 110.0 L126.7 107.4 L130.8 104.1 L136.2 100.0 L137.6 99.9 L141.9 96.6 L146.7 93.6 L152.5 90.7 L155.1 88.6 L160.7 87.5 L164.9 88.4 L169.8 86.0 L176.5 84.2 L179.1 85.1 L186.1 87.4 L188.9 85.6 L193.0 85.9 L196.9 86.7 L204.7 86.3 L209.6 84.7 L212.9 79.4 L221.0 79.6 L223.7 79.3 L228.5 77.6 L231.9 73.5 L236.6 72.9 L240.7 76.5 L244.9 71.6 L249.4 74.5 L256.9 77.6 L258.7 81.1 L263.9 87.5 L264.5 88.6 L266.9 92.0 L271.6 94.8 L274.0 99.6 L278.9 105.3 L281.4 105.9 L286.1 108.2 L289.6 111.3 L290.3 114.6 L292.6 118.2 L296.0 124.0 L301.3 125.7 L302.6 128.1 L306.7 131.5 L308.3 138.4 L309.7 138.2 L313.5 144.4 L315.3 147.4 L315.3 152.9 L315.3 157.6 L314.7 158.8 L314.1 166.8 L314.8 171.3 L311.8 174.3 L311.8 178.6 L310.5 182.3 L308.5 186.8 L305.7 191.7 L306.1 191.4 L304.5 199.4 L301.0 198.2 L299.0 201.8 L296.5 207.6 L291.2 208.4 L289.7 213.0 L286.8 217.4 L282.0 215.7 L280.8 218.4 L277.5 221.6 L274.1 227.4 L271.1 229.0 L267.9 230.0 L264.0 233.3 L261.5 238.1 L257.0 239.6 L252.5 239.9 L250.4 244.0 L247.5 246.4 L241.6 247.1 L239.7 249.8 L232.1 252.3 L229.1 249.8 L223.0 249.1 L218.3 246.6 L211.7 246.4 L208.8 243.4 L201.4 244.9 L199.3 244.6 L193.7 246.5 L190.4 243.0 L186.4 243.9 L180.5 247.3 L176.5 247.3 L171.5 248.0 L167.3 244.8 L163.2 246.0 L158.3 249.1 L153.8 245.1 L147.3 245.0 L142.5 243.2 L138.9 237.3 L134.6 238.1 L131.4 234.9 L129.6 231.3 L125.1 228.4 L120.5 227.0 L116.7 224.8 L111.9 222.5 L109.0 219.1 L104.3 215.3 L101.5 214.7 L97.4 212.0 L92.0 210.4 L90.3 208.5 L86.9 207.3 L82.2 205.0 L78.6 201.6 L74.7 202.5 L70.9 197.9 L68.1 193.0 L64.0 188.4 L63.8 188.0 L60.5 183.6 L58.1 176.2 L56.0 172.9 L54.9 170.0Z"/></clipPath>
<clipPath id="blob5"><path d="M53.9 164.0 L56.0 159.6 L57.5 154.2 L58.3 148.4 L63.8 145.7 L66.5 139.6 L68.5 137.6 L71.9 136.4 L73.6 132.1 L77.6 132.7 L82.5 126.2 L86.2 123.3 L89.3 120.4 L91.2 121.3 L95.6 115.4 L101.6 115.9 L103.3 113.7 L108.3 112.0 L111.6 113.0 L117.3 112.9 L122.2 109.4 L126.0 106.1 L130.8 102.9 L134.8 102.7 L137.5 100.2 L142.0 95.5 L147.7 94.2 L150.5 92.1 L155.9 87.9 L161.7 86.3 L166.1 88.8 L169.0 87.1 L175.0 86.5 L178.9 84.3 L184.4 89.0 L188.8 87.7 L195.2 88.2 L197.8 85.0 L203.6 85.5 L207.8 83.7 L215.1 82.1 L218.3 80.4 L222.7 76.4 L228.5 78.1 L232.0 77.1 L236.9 73.8 L240.5 72.8 L244.1 72.3 L251.2 78.5 L255.1 76.1 L260.7 83.2 L262.2 86.6 L265.6 92.3 L268.1 93.2 L269.8 98.4 L274.0 99.6 L280.6 101.1 L283.1 107.9 L285.7 110.0 L287.1 111.1 L290.0 116.7 L293.3 118.4 L298.2 123.9 L301.7 125.5 L303.9 130.4 L307.4 131.9 L308.8 134.9 L310.3 142.7 L313.6 144.7 L313.9 147.1 L313.0 151.1 L315.3 158.2 L314.3 162.1 L315.8 166.0 L314.1 170.5 L311.9 174.6 L310.3 177.8 L310.4 183.1 L307.4 188.0 L306.8 190.0 L303.4 193.6 L302.5 198.0 L300.4 201.9 L298.3 205.0 L294.7 207.5 L293.2 211.6 L288.8 214.3 L287.1 216.3 L284.2 220.2 L279.7 220.9 L275.4 225.0 L274.5 226.0 L270.5 229.8 L267.4 229.9 L264.4 234.5 L260.8 236.4 L257.5 240.8 L254.3 243.2 L248.8 242.4 L246.2 246.6 L241.9 248.7 L239.3 247.5 L233.5 249.4 L226.9 250.0 L222.3 248.1 L216.6 245.3 L212.4 245.9 L207.8 245.8 L201.7 246.2 L196.8 244.1 L193.3 244.4 L188.5 246.7 L185.0 243.1 L181.4 243.7 L176.9 245.1 L172.7 248.4 L169.1 246.1 L164.1 247.5 L157.8 245.4 L153.5 247.8 L149.2 247.1 L142.8 241.4 L140.1 236.9 L134.2 236.8 L132.1 231.9 L128.6 232.6 L124.3 227.5 L120.3 224.0 L118.1 222.3 L113.8 222.7 L108.5 217.4 L105.8 217.0 L100.5 214.5 L98.4 213.7 L92.6 212.0 L88.4 210.6 L85.5 206.9 L82.8 207.3 L76.8 203.7 L74.3 202.5 L72.6 195.9 L67.9 192.3 L66.8 189.7 L62.8 186.3 L60.1 182.7 L57.5 176.0 L56.5 171.9 L54.7 167.1Z"/></clipPath>
<linearGradient id="cbC" x1="0" y1="0" x2="0" y2="1"><stop offset="-0.000" stop-color="#aa76b8"/><stop offset="0.083" stop-color="#a67cba"/><stop offset="0.167" stop-color="#a086c2"/><stop offset="0.250" stop-color="#9892ca"/><stop offset="0.333" stop-color="#8ea0d2"/><stop offset="0.417" stop-color="#74b4e2"/><stop offset="0.500" stop-color="#62c2ea"/><stop offset="0.667" stop-color="#5ec6e2"/><stop offset="0.833" stop-color="#5ec7d8"/><stop offset="1.000" stop-color="#62c8ce"/></linearGradient>
<linearGradient id="bgD" x1="0" y1="0" x2="0" y2="1"><stop offset="0" stop-color="#c5e8ea"/><stop offset="0.25" stop-color="#cdeaee"/><stop offset="0.43" stop-color="#d9ecf3"/><stop offset="0.58" stop-color="#e6e7f1"/><stop offset="0.78" stop-color="#f4dfec"/><stop offset="1" stop-color="#fadbea"/></linearGradient>
</defs>
<rect x="0" y="0" width="2100" height="2339" fill="#ffffff"/>
<line x1="7.4" y1="1.0" x2="2093.5" y2="1.0" stroke="#747cb0" stroke-width="3.4" stroke-dasharray="25 6.6" stroke-dashoffset="5.8"/>
<line x1="7.4" y1="434.7" x2="2093.5" y2="434.7" stroke="#7a80aa" stroke-width="3.6" stroke-dasharray="25 6.6" stroke-dashoffset="5.8"/>
<line x1="7.4" y1="1.0" x2="7.4" y2="434.7" stroke="#7784bb" stroke-width="2.4" stroke-dasharray="25 6.6" stroke-dashoffset="5.8"/>
<line x1="2093.5" y1="1.0" x2="2093.5" y2="434.7" stroke="#a9b4ea" stroke-width="1.5" stroke-dasharray="29.6 2" stroke-dashoffset="5.8"/>
<line x1="7.4" y1="458.8" x2="2093.6" y2="458.8" stroke="#7482b2" stroke-width="2.6" stroke-dasharray="25 6.6" stroke-dashoffset="5.8"/>
<line x1="7.4" y1="1552.2" x2="2093.6" y2="1552.2" stroke="#7a80aa" stroke-width="3.4" stroke-dasharray="25 6.6" stroke-dashoffset="5.8"/>
<line x1="7.4" y1="458.8" x2="7.4" y2="1552.2" stroke="#7784bb" stroke-width="2.4" stroke-dasharray="25 6.6" stroke-dashoffset="5.8"/>
<line x1="2093.6" y1="458.8" x2="2093.6" y2="1552.2" stroke="#a9b4ea" stroke-width="1.5" stroke-dasharray="29.6 2" stroke-dashoffset="5.8"/>
<line x1="7.2" y1="1579.1" x2="1081.9" y2="1579.1" stroke="#7482b2" stroke-width="2.4" stroke-dasharray="25 6.6" stroke-dashoffset="5.8"/>
<line x1="7.2" y1="2337.4" x2="1081.9" y2="2337.4" stroke="#7a80b4" stroke-width="3.4" stroke-dasharray="25 6.6" stroke-dashoffset="5.8"/>
<line x1="7.2" y1="1579.1" x2="7.2" y2="2337.4" stroke="#7784bb" stroke-width="2.4" stroke-dasharray="25 6.6" stroke-dashoffset="5.8"/>
<line x1="1081.9" y1="1579.1" x2="1081.9" y2="2337.4" stroke="#5f6cae" stroke-width="2.2" stroke-dasharray="25 6.6" stroke-dashoffset="5.8"/>
<line x1="1100.8" y1="1579.1" x2="2093.5" y2="1579.1" stroke="#7482b2" stroke-width="2.4" stroke-dasharray="25 6.6" stroke-dashoffset="5.8"/>
<line x1="1100.8" y1="2337.4" x2="2093.5" y2="2337.4" stroke="#7a80b4" stroke-width="3.4" stroke-dasharray="25 6.6" stroke-dashoffset="5.8"/>
<line x1="1100.8" y1="1579.1" x2="1100.8" y2="2337.4" stroke="#5f6cae" stroke-width="2.2" stroke-dasharray="25 6.6" stroke-dashoffset="5.8"/>
<line x1="2093.5" y1="1579.1" x2="2093.5" y2="2337.4" stroke="#a9b4ea" stroke-width="1.5" stroke-dasharray="29.6 2" stroke-dashoffset="5.8"/>
<text x="19.0" y="46.4" font-size="36.5" fill="#231815" font-weight="bold" >(a)</text>
<text x="90.5" y="72.3" font-size="33.9" fill="#000" font-weight="bold" ><tspan font-style="italic">D</tspan><tspan font-size="20" dy="7.5">L</tspan><tspan dy="-7.5"> = 820 mm interforegram</tspan></text>
<text x="55.5" y="409.2" font-size="33.5" fill="#000" font-weight="bold" transform="rotate(-90 55.5 409.2)" textLength="331.5" lengthAdjust="spacingAndGlyphs" >Five step phase shift</text>
<g transform="translate(68.0,185.5) skewY(-44.7) scale(0.2243,0.7013)">
<rect x="0" y="0" width="370.0" height="308.0" fill="#050101"/>
<g filter="url(#blurA)" transform="translate(370.0,0) scale(-1,1)">
<circle cx="181.0" cy="154.0" r="112" fill="url(#igA1)"/>
<circle cx="181.0" cy="154.0" r="112" fill="url(#tipA)"/>
<circle cx="181.0" cy="154.0" r="113" fill="url(#vig)"/>
</g></g>
<g transform="translate(163.2,182.0) skewY(-44.7) scale(0.2351,0.7338)">
<rect x="0" y="0" width="370.0" height="308.0" fill="#050101"/>
<g filter="url(#blurA)" transform="translate(370.0,0) scale(-1,1)">
<circle cx="181.0" cy="154.0" r="112" fill="url(#igA2)"/>
<circle cx="181.0" cy="154.0" r="112" fill="url(#tipA)"/>
<circle cx="181.0" cy="154.0" r="113" fill="url(#vig)"/>
</g></g>
<g transform="translate(259.8,182.0) skewY(-44.7) scale(0.2351,0.7338)">
<rect x="0" y="0" width="370.0" height="308.0" fill="#050101"/>
<g filter="url(#blurA)" transform="translate(370.0,0) scale(-1,1)">
<circle cx="181.0" cy="154.0" r="112" fill="url(#igA3)"/>
<circle cx="181.0" cy="154.0" r="112" fill="url(#tipA)"/>
<circle cx="181.0" cy="154.0" r="113" fill="url(#vig)"/>
</g></g>
<g transform="translate(356.7,182.0) skewY(-44.7) scale(0.2351,0.7338)">
<rect x="0" y="0" width="370.0" height="308.0" fill="#050101"/>
<g filter="url(#blurA)" transform="translate(370.0,0) scale(-1,1)">
<circle cx="181.0" cy="154.0" r="112" fill="url(#igA4)"/>
<circle cx="181.0" cy="154.0" r="112" fill="url(#tipA)"/>
<circle cx="181.0" cy="154.0" r="113" fill="url(#vig)"/>
</g></g>
<g transform="translate(454.0,182.0) skewY(-44.7) scale(0.2351,0.7338)">
<rect x="0" y="0" width="370.0" height="308.0" fill="#050101"/>
<g filter="url(#blurA)" transform="translate(370.0,0) scale(-1,1)">
<circle cx="181.0" cy="154.0" r="112" fill="url(#igA5)"/>
<circle cx="181.0" cy="154.0" r="112" fill="url(#tipA)"/>
<circle cx="181.0" cy="154.0" r="113" fill="url(#vig)"/>
</g></g>
<text x="98.6" y="413.1" font-size="25.5" fill="#000" font-weight="bold" transform="rotate(-45 98.6 413.1)" >δ<tspan font-size="0.6em" dy="0.2em" font-style="italic">t1</tspan><tspan dy="-0.120em"> = 0</tspan></text>
<text x="184.3" y="429.6" font-size="25.5" fill="#000" font-weight="bold" transform="rotate(-45 184.3 429.6)" >δ<tspan font-size="0.6em" dy="0.2em" font-style="italic">t2</tspan><tspan dy="-0.120em"> = π/2</tspan></text>
<text x="291.4" y="418.0" font-size="25.5" fill="#000" font-weight="bold" transform="rotate(-45 291.4 418.0)" >δ<tspan font-size="0.6em" dy="0.2em" font-style="italic">t3</tspan><tspan dy="-0.120em"> = π</tspan></text>
<text x="373.9" y="432.0" font-size="25.5" fill="#000" font-weight="bold" transform="rotate(-45 373.9 432.0)" >δ<tspan font-size="0.6em" dy="0.2em" font-style="italic">t4</tspan><tspan dy="-0.120em"> = 3π/2</tspan></text>
<text x="481.2" y="424.7" font-size="25.5" fill="#000" font-weight="bold" transform="rotate(-45 481.2 424.7)" >δ<tspan font-size="0.6em" dy="0.2em" font-style="italic">t5</tspan><tspan dy="-0.120em"> = 2π</tspan></text>
<line x1="542" y1="252" x2="596" y2="252" stroke="#231815" stroke-width="3.2"/>
<path d="M614.6 252 L581.5 239.6 L589.5 252 L581.5 264.6 Z" fill="#231815"/>
<text x="812.8" y="72.4" font-size="33.3" fill="#000" font-weight="bold" text-anchor="middle" textLength="155.0" lengthAdjust="spacingAndGlyphs" >GT-phase</text>
<rect x="618.8" y="97.2" width="397.5" height="308.7" fill="#050101" stroke="#4a4646" stroke-width="1.2"/>
<g clip-path="url(#pcpgGT)"><rect x="674.8" y="121.8" width="260.8" height="260.8" fill="url(#pgGT)" filter="url(#wav6)"/></g>
<rect x="993.1" y="146.3" width="16.6" height="211" fill="url(#cbPh)"/>
<text x="986.8" y="155.7" font-size="28.6" fill="#fff" font-weight="bold" text-anchor="end" >π</text>
<text x="986.8" y="357.8" font-size="28.6" fill="#fff" font-weight="bold" text-anchor="end" >−π</text>
<text x="1295.0" y="72.2" font-size="33.3" fill="#000" font-weight="bold" text-anchor="middle" textLength="176.6" lengthAdjust="spacingAndGlyphs" >GT-surface</text>
<rect x="1064.2" y="96.4" width="442.0" height="311.5" fill="#050101" stroke="#4a4646" stroke-width="1.2"/>
<g transform="translate(1103.9,97.9)">
<line x1="198.6" y1="39.7" x2="24.6" y2="129.7" stroke="#b9b5b4" stroke-width="2.1"/>
<line x1="198.6" y1="39.7" x2="368.5" y2="143.6" stroke="#b9b5b4" stroke-width="2.1"/>
<line x1="24.6" y1="129.7" x2="30.0" y2="185.4" stroke="#b9b5b4" stroke-width="2.1"/>
<line x1="30.0" y1="185.4" x2="188.6" y2="296.8" stroke="#b9b5b4" stroke-width="2.1"/>
<line x1="188.6" y1="296.8" x2="363.2" y2="190.7" stroke="#b9b5b4" stroke-width="2.1"/>
<line x1="363.2" y1="190.7" x2="368.5" y2="143.6" stroke="#b9b5b4" stroke-width="2.1"/>
<line x1="198.6" y1="39.7" x2="198.6" y2="90.0" stroke="#b9b5b4" stroke-width="2.6"/>
<line x1="61.7" y1="207.7" x2="57.7" y2="215.7" stroke="#b9b5b4" stroke-width="1.8"/>
<line x1="223.5" y1="275.6" x2="226.5" y2="283.6" stroke="#b9b5b4" stroke-width="1.8"/>
<line x1="93.4" y1="230.0" x2="89.4" y2="238.0" stroke="#b9b5b4" stroke-width="1.8"/>
<line x1="258.4" y1="254.4" x2="261.4" y2="262.4" stroke="#b9b5b4" stroke-width="1.8"/>
<line x1="125.2" y1="252.2" x2="121.2" y2="260.2" stroke="#b9b5b4" stroke-width="1.8"/>
<line x1="293.4" y1="233.1" x2="296.4" y2="241.1" stroke="#b9b5b4" stroke-width="1.8"/>
<line x1="156.9" y1="274.5" x2="152.9" y2="282.5" stroke="#b9b5b4" stroke-width="1.8"/>
<line x1="328.3" y1="211.9" x2="331.3" y2="219.9" stroke="#b9b5b4" stroke-width="1.8"/>
<line x1="188.6" y1="296.8" x2="184.6" y2="304.8" stroke="#b9b5b4" stroke-width="1.8"/>
<line x1="363.2" y1="190.7" x2="366.2" y2="198.7" stroke="#b9b5b4" stroke-width="1.8"/>
<line x1="188.6" y1="296.8" x2="183.6" y2="303.8" stroke="#b9b5b4" stroke-width="1.8"/>
<line x1="188.6" y1="296.8" x2="193.6" y2="303.8" stroke="#b9b5b4" stroke-width="1.8"/>
<g clip-path="url(#blob6)"><g filter="url(#cmS6)">
<rect x="40" y="60" width="300" height="210" fill="#808080"/>
<g filter="url(#hb)">
<ellipse cx="238.9" cy="113.6" rx="51.4" ry="27.9" fill="#999999" opacity="0.9"/>
<ellipse cx="238.3" cy="87.9" rx="30.0" ry="16.1" fill="#e0e0e0" opacity="1"/>
<ellipse cx="210.8" cy="119.4" rx="42.9" ry="15.0" fill="#919191" opacity="0.8"/>
<ellipse cx="89.8" cy="190.9" rx="35.8" ry="30.2" fill="#b2b2b2" opacity="1"/>
<ellipse cx="111.8" cy="210.0" rx="15.0" ry="10.7" fill="#d6d6d6" opacity="1"/>
<ellipse cx="103.9" cy="130.7" rx="27.9" ry="12.9" fill="#545454" opacity="1"/>
<ellipse cx="224.6" cy="173.2" rx="64.3" ry="32.1" fill="#5e5e5e" opacity="1"/>
<ellipse cx="150.4" cy="201.9" rx="12.9" ry="10.7" fill="#474747" opacity="1"/>
<ellipse cx="232.7" cy="243.0" rx="21.4" ry="9.6" fill="#383838" opacity="1"/>
<ellipse cx="301.5" cy="135.9" rx="10.7" ry="21.4" fill="#9e9e9e" opacity="0.9"/>
</g><g filter="url(#hbs)">
<ellipse cx="151.7" cy="146.8" rx="3.2" ry="4.3" fill="#e6e6e6" opacity="1"/>
<ellipse cx="115.9" cy="123.7" rx="7.5" ry="5.6" fill="#292929" opacity="1"/>
<ellipse cx="206.8" cy="156.4" rx="8.6" ry="6.4" fill="#474747" opacity="0.9"/>
</g></g></g>
<g clip-path="url(#blob6)"><line x1="175.1" y1="60" x2="175.1" y2="270" stroke="#2a3040" stroke-width="1.1" opacity="0.75"/></g>
<g clip-path="url(#blob6)"><line x1="308.4" y1="60" x2="308.4" y2="270" stroke="#2a3040" stroke-width="1.1" opacity="0.75"/></g>
</g>
<text x="1072.6" y="122.2" font-size="25.8" fill="#fff" font-weight="bold" >PV: 0.072 1 <tspan font-style="italic">λ</tspan></text>
<text x="1073.0" y="150.5" font-size="25.8" fill="#fff" font-weight="bold" >RMS: 0.011 8 <tspan font-style="italic">λ</tspan></text>
<text x="1114.5" y="193.0" font-size="25" fill="#fff" font-weight="bold" >×10<tspan font-size="14.5" dy="-10">−2</tspan></text>
<text x="1073.0" y="226.6" font-size="25" fill="#fff" font-weight="bold" >3.90</text>
<text x="1066.6" y="284.3" font-size="25" fill="#fff" font-weight="bold" >−3.31</text>
<text x="1112.0" y="318.0" font-size="25" fill="#fff" font-weight="bold" transform="rotate(38 1112.0 318.0)" ><tspan font-style="italic">Y</tspan>: 102 4 pix</text>
<text x="1349.0" y="399.0" font-size="25" fill="#fff" font-weight="bold" transform="rotate(-30.5 1349.0 399.0)" ><tspan font-style="italic">X</tspan>: 102 4 pix</text>
<text x="1767.8" y="73.2" font-size="33.3" fill="#231815" font-weight="bold" text-anchor="middle" textLength="227.0" lengthAdjust="spacingAndGlyphs" >ZYGO-surface</text>
<rect x="1551.9" y="96.1" width="424.4" height="311.3" fill="#050101" stroke="#4a4646" stroke-width="1.2"/>
<line x1="1651.2" y1="312.5" x2="1859.2" y2="356.2" stroke="#8e8a8a" stroke-width="2"/>
<line x1="1651.2" y1="312.5" x2="1679.4" y2="263.8" stroke="#7e8088" stroke-width="1.8"/>
<line x1="1859.2" y1="356.2" x2="1885.8" y2="206.7" stroke="#6e6c6c" stroke-width="1.6"/>
<line x1="1651.2" y1="315.5" x2="1859.2" y2="359.2" stroke="#6e6a6a" stroke-width="3" stroke-dasharray="1.5 4"/>
<line x1="1861.2" y1="356.2" x2="1887.8" y2="206.7" stroke="#6e6a6a" stroke-width="3" stroke-dasharray="1.2 5"/>
<g clip-path="url(#blobZ)"><g filter="url(#cmZ)">
<rect x="1666.9" y="165.4" width="225" height="155" fill="#a6a6a6"/>
<g filter="url(#hbz)">
<ellipse cx="1691.9" cy="246.2" rx="23.1" ry="36.5" fill="#e0e0e0" opacity="1"/>
<ellipse cx="1716.9" cy="275.0" rx="21.2" ry="13.5" fill="#d6d6d6" opacity="1"/>
<ellipse cx="1688.1" cy="213.5" rx="15.4" ry="11.5" fill="#c7c7c7" opacity="0.9"/>
<ellipse cx="1857.3" cy="207.7" rx="23.1" ry="34.6" fill="#e0e0e0" opacity="1"/>
<ellipse cx="1828.5" cy="188.5" rx="23.1" ry="13.5" fill="#cccccc" opacity="0.9"/>
<ellipse cx="1873.7" cy="240.4" rx="8.7" ry="25.0" fill="#ebebeb" opacity="1"/>
<ellipse cx="1805.4" cy="213.5" rx="25.0" ry="17.3" fill="#bdbdbd" opacity="0.8"/>
<ellipse cx="1757.3" cy="193.3" rx="23.1" ry="13.5" fill="#7a7a7a" opacity="1"/>
<ellipse cx="1713.1" cy="207.7" rx="11.5" ry="7.7" fill="#858585" opacity="0.9"/>
<ellipse cx="1782.3" cy="246.2" rx="23.1" ry="26.9" fill="#808080" opacity="1"/>
<ellipse cx="1791.9" cy="226.9" rx="15.4" ry="11.5" fill="#757575" opacity="0.9"/>
<ellipse cx="1759.2" cy="292.3" rx="23.1" ry="13.5" fill="#878787" opacity="0.9"/>
<ellipse cx="1841.9" cy="276.9" rx="23.1" ry="19.2" fill="#757575" opacity="1"/>
<ellipse cx="1809.2" cy="284.6" rx="17.3" ry="11.5" fill="#8c8c8c" opacity="0.8"/>
<ellipse cx="1822.7" cy="242.3" rx="17.3" ry="10.6" fill="#bdbdbd" opacity="0.8"/>
<ellipse cx="1747.7" cy="257.7" rx="13.5" ry="11.5" fill="#b8b8b8" opacity="0.7"/>
<ellipse cx="1843.8" cy="230.8" rx="8.7" ry="5.4" fill="#808080" opacity="0.9"/>
<ellipse cx="1732.3" cy="230.8" rx="13.5" ry="7.7" fill="#8f8f8f" opacity="0.8"/>
<ellipse cx="1813.1" cy="194.2" rx="9.6" ry="5.8" fill="#8c8c8c" opacity="0.8"/>
</g><g filter="url(#hbs)">
<ellipse cx="1726.5" cy="199.0" rx="7.7" ry="5.8" fill="#2b2b2b" opacity="1"/>
<ellipse cx="1857.3" cy="267.3" rx="7.3" ry="5.8" fill="#2b2b2b" opacity="1"/>
<ellipse cx="1836.2" cy="288.5" rx="9.6" ry="7.3" fill="#242424" opacity="1"/>
<ellipse cx="1791.9" cy="302.9" rx="8.7" ry="5.4" fill="#292929" opacity="1"/>
</g></g></g>
<text x="1563.4" y="125.0" font-size="25.8" fill="#fff" font-weight="bold" >PV: 0.073 2 <tspan font-style="italic">λ</tspan></text>
<text x="1562.6" y="156.9" font-size="25.8" fill="#fff" font-weight="bold" >RMS: 0.011 0 <tspan font-style="italic">λ</tspan></text>
<text x="1637.4" y="267.4" font-size="16.6" fill="#fff" font-weight="bold" >350</text>
<text x="1629.6" y="286.2" font-size="16.6" fill="#fff" font-weight="bold" >400</text>
<text x="1614.6" y="306.6" font-size="16.6" fill="#fff" font-weight="bold" >450</text>
<text x="1624.0" y="337.9" font-size="16.6" fill="#fff" font-weight="bold" >100</text>
<text x="1657.8" y="345.7" font-size="16.6" fill="#fff" font-weight="bold" >150</text>
<text x="1688.2" y="353.5" font-size="16.6" fill="#fff" font-weight="bold" >200</text>
<text x="1719.5" y="361.4" font-size="16.6" fill="#fff" font-weight="bold" >250</text>
<text x="1750.2" y="367.0" font-size="16.6" fill="#fff" font-weight="bold" >300</text>
<text x="1783.7" y="373.9" font-size="16.6" fill="#fff" font-weight="bold" >350</text>
<text x="1820.6" y="381.7" font-size="16.6" fill="#fff" font-weight="bold" >400</text>
<text x="1869.8" y="367.0" font-size="16.6" fill="#fff" font-weight="bold" >100</text>
<text x="1874.5" y="334.1" font-size="16.6" fill="#fff" font-weight="bold" >150</text>
<text x="1882.3" y="309.7" font-size="16.6" fill="#fff" font-weight="bold" >200</text>
<text x="1884.8" y="287.8" font-size="16.6" fill="#fff" font-weight="bold" >250</text>
<text x="1886.4" y="266.5" font-size="16.6" fill="#fff" font-weight="bold" >300</text>
<text x="1889.2" y="247.7" font-size="16.6" fill="#fff" font-weight="bold" >350</text>
<text x="1891.7" y="227.6" font-size="16.6" fill="#fff" font-weight="bold" >400</text>
<text x="1597.3" y="297.2" font-size="25.8" fill="#fff" font-weight="bold" font-style="italic" transform="rotate(-58 1597.3 297.2)" >X: 383 pix</text>
<text x="1665.3" y="375.5" font-size="25.8" fill="#fff" font-weight="bold" font-style="italic" transform="rotate(14.5 1665.3 375.5)" >Y: 383 pix</text>
<rect x="1948.6" y="109" width="2.2" height="285" fill="url(#zl)"/>
<line x1="1934" y1="116.0" x2="1942" y2="116.0" stroke="#3c3a38" stroke-width="1.5"/>
<line x1="1934" y1="140.2" x2="1942" y2="140.2" stroke="#3c3a38" stroke-width="1.5"/>
<line x1="1934" y1="164.4" x2="1942" y2="164.4" stroke="#3c3a38" stroke-width="1.5"/>
<line x1="1934" y1="188.6" x2="1942" y2="188.6" stroke="#3c3a38" stroke-width="1.5"/>
<line x1="1934" y1="212.8" x2="1942" y2="212.8" stroke="#3c3a38" stroke-width="1.5"/>
<line x1="1934" y1="237.0" x2="1942" y2="237.0" stroke="#3c3a38" stroke-width="1.5"/>
<line x1="1934" y1="261.2" x2="1942" y2="261.2" stroke="#3c3a38" stroke-width="1.5"/>
<line x1="1934" y1="285.4" x2="1942" y2="285.4" stroke="#3c3a38" stroke-width="1.5"/>
<line x1="1934" y1="309.6" x2="1942" y2="309.6" stroke="#3c3a38" stroke-width="1.5"/>
<line x1="1934" y1="333.8" x2="1942" y2="333.8" stroke="#3c3a38" stroke-width="1.5"/>
<line x1="1934" y1="358.0" x2="1942" y2="358.0" stroke="#3c3a38" stroke-width="1.5"/>
<line x1="1934" y1="382.2" x2="1942" y2="382.2" stroke="#3c3a38" stroke-width="1.5"/>
<line x1="1943" y1="110" x2="1954" y2="110" stroke="#b06070" stroke-width="1.5"/>
<line x1="1943" y1="393" x2="1954" y2="393" stroke="#5060b0" stroke-width="1.5"/>
<rect x="2052.4" y="124.9" width="26.3" height="223.9" fill="#0a0405"/>
<rect x="2057.0" y="132.9" width="17.1" height="211.3" fill="url(#cbJet)"/>
<text x="2048.3" y="141.8" font-size="29.2" fill="#231815" font-weight="bold" text-anchor="end" >4.42</text>
<text x="2048.3" y="344.0" font-size="29.2" fill="#231815" font-weight="bold" text-anchor="end" >−3.39</text>
<text x="1983.0" y="394.0" font-size="29.2" fill="#231815" font-weight="bold" >×10<tspan font-size="17" dy="-11">−2</tspan><tspan dy="11"> </tspan><tspan font-style="italic">λ</tspan></text>
<text x="18.2" y="499.5" font-size="36.5" fill="#231815" font-weight="bold" >(b)</text>
<text x="258.3" y="526.3" font-size="33.3" fill="#231815" font-weight="bold" text-anchor="middle" >Test1</text>
<text x="635.4" y="526.3" font-size="33.3" fill="#231815" font-weight="bold" text-anchor="middle" >Test2</text>
<text x="1012.5" y="526.3" font-size="33.3" fill="#231815" font-weight="bold" text-anchor="middle" >Test3</text>
<text x="1389.6" y="526.3" font-size="33.3" fill="#231815" font-weight="bold" text-anchor="middle" >Test4</text>
<text x="1766.7" y="526.3" font-size="33.3" fill="#231815" font-weight="bold" text-anchor="middle" >Test5</text>
<text x="56.1" y="854.7" font-size="33.5" fill="#000" font-weight="bold" transform="rotate(-90 56.1 854.7)" textLength="308.3" lengthAdjust="spacingAndGlyphs" >Input interforegram</text>
<text x="56.1" y="1147.7" font-size="33.5" fill="#000" font-weight="bold" transform="rotate(-90 56.1 1147.7)" textLength="216.0" lengthAdjust="spacingAndGlyphs" >Output phase</text>
<text x="56.5" y="1525.8" font-size="33.5" fill="#000" font-weight="bold" transform="rotate(-90 56.5 1525.8)" textLength="310.7" lengthAdjust="spacingAndGlyphs" >LA-SFISPM-surface</text>
<rect x="77.0" y="556.0" width="370.3" height="308.4" fill="#050101" stroke="#4a4646" stroke-width="1.2"/>
<g clip-path="url(#icT1)"><g filter="url(#grain)"><rect x="134.2" y="578.6" width="253.2" height="256.8" fill="url(#iguT1)" filter="url(#wavI1)"/></g></g>
<ellipse cx="260.8" cy="707.0" rx="111.2" ry="113.0" fill="url(#vig)"/>
<rect x="458.3" y="556.0" width="369.7" height="308.4" fill="#050101" stroke="#4a4646" stroke-width="1.2"/>
<g clip-path="url(#icT2)"><g filter="url(#grain)"><rect x="515.1" y="578.6" width="253.2" height="256.8" fill="url(#iguT2)" filter="url(#wavI2)"/></g></g>
<ellipse cx="641.8" cy="707.0" rx="111.2" ry="113.0" fill="url(#vig)"/>
<rect x="837.7" y="556.0" width="368.1" height="308.4" fill="#050101" stroke="#4a4646" stroke-width="1.2"/>
<g clip-path="url(#icT3)"><g filter="url(#grain)"><rect x="893.8" y="578.6" width="253.2" height="256.8" fill="url(#iguT3)" filter="url(#wavI3)"/></g></g>
<ellipse cx="1020.4" cy="707.0" rx="111.2" ry="113.0" fill="url(#vig)"/>
<rect x="1216.2" y="556.0" width="370.4" height="308.4" fill="#050101" stroke="#4a4646" stroke-width="1.2"/>
<g clip-path="url(#icT4)"><g filter="url(#grain)"><rect x="1273.4" y="578.6" width="253.2" height="256.8" fill="url(#iguT4)" filter="url(#wavI4)"/></g></g>
<ellipse cx="1400.0" cy="707.0" rx="111.2" ry="113.0" fill="url(#vig)"/>
<rect x="1595.9" y="556.0" width="370.5" height="308.4" fill="#050101" stroke="#4a4646" stroke-width="1.2"/>
<g clip-path="url(#icT5)"><g filter="url(#grain)"><rect x="1653.2" y="578.6" width="253.2" height="256.8" fill="url(#iguT5)" filter="url(#wavI5)"/></g></g>
<ellipse cx="1779.8" cy="707.0" rx="111.2" ry="113.0" fill="url(#vig)"/>
<rect x="77.0" y="892.8" width="370.3" height="308.0" fill="#050101" stroke="#4a4646" stroke-width="1.2"/>
<g clip-path="url(#pcpg0)"><rect x="131.9" y="916.8" width="261.0" height="261.0" fill="url(#pg0)" filter="url(#wav1)"/></g>
<rect x="458.3" y="892.8" width="369.7" height="308.0" fill="#050101" stroke="#4a4646" stroke-width="1.2"/>
<g clip-path="url(#pcpg1)"><rect x="512.9" y="916.8" width="261.0" height="261.0" fill="url(#pg1)" filter="url(#wav2)"/></g>
<rect x="837.7" y="892.8" width="368.1" height="308.0" fill="#050101" stroke="#4a4646" stroke-width="1.2"/>
<g clip-path="url(#pcpg2)"><rect x="891.5" y="916.8" width="261.0" height="261.0" fill="url(#pg2)" filter="url(#wav3)"/></g>
<rect x="1216.2" y="892.8" width="370.4" height="308.0" fill="#050101" stroke="#4a4646" stroke-width="1.2"/>
<g clip-path="url(#pcpg3)"><rect x="1271.2" y="916.8" width="261.0" height="261.0" fill="url(#pg3)" filter="url(#wav4)"/></g>
<rect x="1595.9" y="892.8" width="370.5" height="308.0" fill="#050101" stroke="#4a4646" stroke-width="1.2"/>
<g clip-path="url(#pcpg4)"><rect x="1651.0" y="916.8" width="261.0" height="261.0" fill="url(#pg4)" filter="url(#wav5)"/></g>
<rect x="77.0" y="1231.0" width="370.3" height="307.2" fill="#050101" stroke="#4a4646" stroke-width="1.2"/>
<g transform="translate(77.5,1231.4)">
<line x1="198.6" y1="39.7" x2="24.6" y2="129.7" stroke="#b9b5b4" stroke-width="2.1"/>
<line x1="198.6" y1="39.7" x2="368.5" y2="143.6" stroke="#b9b5b4" stroke-width="2.1"/>
<line x1="24.6" y1="129.7" x2="30.0" y2="185.4" stroke="#b9b5b4" stroke-width="2.1"/>
<line x1="30.0" y1="185.4" x2="188.6" y2="296.8" stroke="#b9b5b4" stroke-width="2.1"/>
<line x1="188.6" y1="296.8" x2="363.2" y2="190.7" stroke="#b9b5b4" stroke-width="2.1"/>
<line x1="363.2" y1="190.7" x2="368.5" y2="143.6" stroke="#b9b5b4" stroke-width="2.1"/>
<line x1="198.6" y1="39.7" x2="198.6" y2="90.0" stroke="#b9b5b4" stroke-width="2.6"/>
<line x1="61.7" y1="207.7" x2="57.7" y2="215.7" stroke="#b9b5b4" stroke-width="1.8"/>
<line x1="223.5" y1="275.6" x2="226.5" y2="283.6" stroke="#b9b5b4" stroke-width="1.8"/>
<line x1="93.4" y1="230.0" x2="89.4" y2="238.0" stroke="#b9b5b4" stroke-width="1.8"/>
<line x1="258.4" y1="254.4" x2="261.4" y2="262.4" stroke="#b9b5b4" stroke-width="1.8"/>
<line x1="125.2" y1="252.2" x2="121.2" y2="260.2" stroke="#b9b5b4" stroke-width="1.8"/>
<line x1="293.4" y1="233.1" x2="296.4" y2="241.1" stroke="#b9b5b4" stroke-width="1.8"/>
<line x1="156.9" y1="274.5" x2="152.9" y2="282.5" stroke="#b9b5b4" stroke-width="1.8"/>
<line x1="328.3" y1="211.9" x2="331.3" y2="219.9" stroke="#b9b5b4" stroke-width="1.8"/>
<line x1="188.6" y1="296.8" x2="184.6" y2="304.8" stroke="#b9b5b4" stroke-width="1.8"/>
<line x1="363.2" y1="190.7" x2="366.2" y2="198.7" stroke="#b9b5b4" stroke-width="1.8"/>
<line x1="188.6" y1="296.8" x2="183.6" y2="303.8" stroke="#b9b5b4" stroke-width="1.8"/>
<line x1="188.6" y1="296.8" x2="193.6" y2="303.8" stroke="#b9b5b4" stroke-width="1.8"/>
<g clip-path="url(#blob1)"><g filter="url(#cmS1)">
<rect x="40" y="60" width="300" height="210" fill="#808080"/>
<g filter="url(#hb)">
<ellipse cx="238.9" cy="105.0" rx="49.3" ry="23.6" fill="#a8a8a8" opacity="0.95"/>
<ellipse cx="241.1" cy="83.6" rx="23.6" ry="11.8" fill="#e6e6e6" opacity="1"/>
<ellipse cx="260.3" cy="96.4" rx="12.9" ry="12.9" fill="#cccccc" opacity="0.9"/>
<ellipse cx="82.5" cy="186.4" rx="30.0" ry="25.7" fill="#bdbdbd" opacity="1"/>
<ellipse cx="112.5" cy="214.3" rx="17.1" ry="11.8" fill="#d6d6d6" opacity="1"/>
<ellipse cx="95.3" cy="130.7" rx="27.9" ry="15.0" fill="#595959" opacity="1"/>
<ellipse cx="206.8" cy="173.6" rx="40.7" ry="21.4" fill="#5c5c5c" opacity="1"/>
<ellipse cx="155.3" cy="197.2" rx="15.0" ry="10.7" fill="#4f4f4f" opacity="1"/>
<ellipse cx="234.6" cy="246.4" rx="19.3" ry="8.6" fill="#3d3d3d" opacity="1"/>
<ellipse cx="260.3" cy="207.9" rx="30.0" ry="21.4" fill="#666666" opacity="0.9"/>
<ellipse cx="142.5" cy="156.4" rx="23.6" ry="12.9" fill="#6b6b6b" opacity="0.8"/>
<ellipse cx="181.1" cy="147.9" rx="23.6" ry="8.6" fill="#9e9e9e" opacity="0.9"/>
<ellipse cx="277.5" cy="165.0" rx="12.9" ry="17.1" fill="#8f8f8f" opacity="0.8"/>
<ellipse cx="174.6" cy="109.3" rx="27.9" ry="11.8" fill="#8c8c8c" opacity="0.7"/>
</g><g filter="url(#hbs)">
<ellipse cx="309.6" cy="141.4" rx="6.4" ry="17.1" fill="#bdbdbd" opacity="1"/>
<ellipse cx="63.2" cy="173.6" rx="9.6" ry="12.9" fill="#cccccc" opacity="0.9"/>
<ellipse cx="118.9" cy="120.0" rx="8.6" ry="6.0" fill="#383838" opacity="1"/>
<ellipse cx="151.1" cy="141.4" rx="3.4" ry="5.1" fill="#f2f2f2" opacity="1"/>
</g></g></g>
<g clip-path="url(#blob1)"><line x1="109.3" y1="60" x2="109.3" y2="270" stroke="#2a3040" stroke-width="1.1" opacity="0.75"/></g>
<g clip-path="url(#blob1)"><line x1="307.5" y1="60" x2="307.5" y2="270" stroke="#2a3040" stroke-width="1.1" opacity="0.75"/></g>
</g>
<text x="87.6" y="1252.6" font-size="25.8" fill="#fff" font-weight="bold" >PV: 0.075 4 <tspan font-style="italic">λ</tspan></text>
<text x="87.6" y="1280.5" font-size="25.8" fill="#fff" font-weight="bold" >RMS: 0.010 6 <tspan font-style="italic">λ</tspan></text>
<text x="108.0" y="1324.0" font-size="25" fill="#fff" font-weight="bold" >×10<tspan font-size="14.5" dy="-10">−2</tspan></text>
<text x="82.5" y="1358.8" font-size="25.4" fill="#fff" font-weight="bold" >4.35</text>
<text x="80.0" y="1428.0" font-size="25.4" fill="#fff" font-weight="bold" >−3.19</text>
<text x="87.2" y="1454.5" font-size="25.8" fill="#fff" font-weight="bold" transform="rotate(36.6 87.2 1454.5)" ><tspan font-style="italic">Y</tspan>: 1 024 pix</text>
<text x="321.5" y="1534.0" font-size="25.8" fill="#fff" font-weight="bold" transform="rotate(-30.5 321.5 1534.0)" ><tspan font-style="italic">X</tspan>: 1 024 pix</text>
<rect x="458.3" y="1231.0" width="369.7" height="307.2" fill="#050101" stroke="#4a4646" stroke-width="1.2"/>
<g transform="translate(458.8,1231.4)">
<line x1="198.6" y1="39.7" x2="24.6" y2="129.7" stroke="#b9b5b4" stroke-width="2.1"/>
<line x1="198.6" y1="39.7" x2="368.5" y2="143.6" stroke="#b9b5b4" stroke-width="2.1"/>
<line x1="24.6" y1="129.7" x2="30.0" y2="185.4" stroke="#b9b5b4" stroke-width="2.1"/>
<line x1="30.0" y1="185.4" x2="188.6" y2="296.8" stroke="#b9b5b4" stroke-width="2.1"/>
<line x1="188.6" y1="296.8" x2="363.2" y2="190.7" stroke="#b9b5b4" stroke-width="2.1"/>
<line x1="363.2" y1="190.7" x2="368.5" y2="143.6" stroke="#b9b5b4" stroke-width="2.1"/>
<line x1="198.6" y1="39.7" x2="198.6" y2="90.0" stroke="#b9b5b4" stroke-width="2.6"/>
<line x1="61.7" y1="207.7" x2="57.7" y2="215.7" stroke="#b9b5b4" stroke-width="1.8"/>
<line x1="223.5" y1="275.6" x2="226.5" y2="283.6" stroke="#b9b5b4" stroke-width="1.8"/>
<line x1="93.4" y1="230.0" x2="89.4" y2="238.0" stroke="#b9b5b4" stroke-width="1.8"/>
<line x1="258.4" y1="254.4" x2="261.4" y2="262.4" stroke="#b9b5b4" stroke-width="1.8"/>
<line x1="125.2" y1="252.2" x2="121.2" y2="260.2" stroke="#b9b5b4" stroke-width="1.8"/>
<line x1="293.4" y1="233.1" x2="296.4" y2="241.1" stroke="#b9b5b4" stroke-width="1.8"/>
<line x1="156.9" y1="274.5" x2="152.9" y2="282.5" stroke="#b9b5b4" stroke-width="1.8"/>
<line x1="328.3" y1="211.9" x2="331.3" y2="219.9" stroke="#b9b5b4" stroke-width="1.8"/>
<line x1="188.6" y1="296.8" x2="184.6" y2="304.8" stroke="#b9b5b4" stroke-width="1.8"/>
<line x1="363.2" y1="190.7" x2="366.2" y2="198.7" stroke="#b9b5b4" stroke-width="1.8"/>
<line x1="188.6" y1="296.8" x2="183.6" y2="303.8" stroke="#b9b5b4" stroke-width="1.8"/>
<line x1="188.6" y1="296.8" x2="193.6" y2="303.8" stroke="#b9b5b4" stroke-width="1.8"/>
<g clip-path="url(#blob2)"><g filter="url(#cmS2)">
<rect x="40" y="60" width="300" height="210" fill="#808080"/>
<g filter="url(#hb)">
<ellipse cx="238.9" cy="105.0" rx="49.3" ry="23.6" fill="#a8a8a8" opacity="0.95"/>
<ellipse cx="241.1" cy="83.6" rx="23.6" ry="11.8" fill="#e6e6e6" opacity="1"/>
<ellipse cx="260.3" cy="96.4" rx="12.9" ry="12.9" fill="#cccccc" opacity="0.9"/>
<ellipse cx="82.5" cy="186.4" rx="30.0" ry="25.7" fill="#bdbdbd" opacity="1"/>
<ellipse cx="112.5" cy="214.3" rx="17.1" ry="11.8" fill="#d6d6d6" opacity="1"/>
<ellipse cx="95.3" cy="130.7" rx="27.9" ry="15.0" fill="#595959" opacity="1"/>
<ellipse cx="206.8" cy="173.6" rx="40.7" ry="21.4" fill="#5c5c5c" opacity="1"/>
<ellipse cx="155.3" cy="197.2" rx="15.0" ry="10.7" fill="#4f4f4f" opacity="1"/>
<ellipse cx="234.6" cy="246.4" rx="19.3" ry="8.6" fill="#3d3d3d" opacity="1"/>
<ellipse cx="260.3" cy="207.9" rx="30.0" ry="21.4" fill="#666666" opacity="0.9"/>
<ellipse cx="142.5" cy="156.4" rx="23.6" ry="12.9" fill="#6b6b6b" opacity="0.8"/>
<ellipse cx="181.1" cy="147.9" rx="23.6" ry="8.6" fill="#9e9e9e" opacity="0.9"/>
<ellipse cx="277.5" cy="165.0" rx="12.9" ry="17.1" fill="#8f8f8f" opacity="0.8"/>
<ellipse cx="174.6" cy="109.3" rx="27.9" ry="11.8" fill="#8c8c8c" opacity="0.7"/>
</g><g filter="url(#hbs)">
<ellipse cx="309.6" cy="141.4" rx="6.4" ry="17.1" fill="#bdbdbd" opacity="1"/>
<ellipse cx="63.2" cy="173.6" rx="9.6" ry="12.9" fill="#cccccc" opacity="0.9"/>
<ellipse cx="118.9" cy="120.0" rx="8.6" ry="6.0" fill="#383838" opacity="1"/>
<ellipse cx="151.1" cy="141.4" rx="3.4" ry="5.1" fill="#f2f2f2" opacity="1"/>
</g></g></g>
<g clip-path="url(#blob2)"><line x1="241.0" y1="60" x2="241.0" y2="270" stroke="#2a3040" stroke-width="1.1" opacity="0.75"/></g>
</g>
<text x="468.5" y="1252.6" font-size="25.8" fill="#fff" font-weight="bold" >PV: 0.075 7 <tspan font-style="italic">λ</tspan></text>
<text x="468.5" y="1280.5" font-size="25.8" fill="#fff" font-weight="bold" >RMS: 0.010 4 <tspan font-style="italic">λ</tspan></text>
<text x="474.3" y="1324.0" font-size="25" fill="#fff" font-weight="bold" >×10<tspan font-size="14.5" dy="-10">−2</tspan></text>
<text x="463.4" y="1358.8" font-size="25.4" fill="#fff" font-weight="bold" >4.18</text>
<text x="460.8" y="1428.0" font-size="25.4" fill="#fff" font-weight="bold" >−3.39</text>
<text x="470.3" y="1454.5" font-size="25.8" fill="#fff" font-weight="bold" transform="rotate(36.6 470.3 1454.5)" ><tspan font-style="italic">Y</tspan>: 1 024 pix</text>
<text x="703.5" y="1534.0" font-size="25.8" fill="#fff" font-weight="bold" transform="rotate(-30.5 703.5 1534.0)" ><tspan font-style="italic">X</tspan>: 1 024 pix</text>
<rect x="837.7" y="1231.0" width="368.1" height="307.2" fill="#050101" stroke="#4a4646" stroke-width="1.2"/>
<g transform="translate(838.2,1231.4)">
<line x1="198.6" y1="39.7" x2="24.6" y2="129.7" stroke="#b9b5b4" stroke-width="2.1"/>
<line x1="198.6" y1="39.7" x2="368.5" y2="143.6" stroke="#b9b5b4" stroke-width="2.1"/>
<line x1="24.6" y1="129.7" x2="30.0" y2="185.4" stroke="#b9b5b4" stroke-width="2.1"/>
<line x1="30.0" y1="185.4" x2="188.6" y2="296.8" stroke="#b9b5b4" stroke-width="2.1"/>
<line x1="188.6" y1="296.8" x2="363.2" y2="190.7" stroke="#b9b5b4" stroke-width="2.1"/>
<line x1="363.2" y1="190.7" x2="368.5" y2="143.6" stroke="#b9b5b4" stroke-width="2.1"/>
<line x1="198.6" y1="39.7" x2="198.6" y2="90.0" stroke="#b9b5b4" stroke-width="2.6"/>
<line x1="61.7" y1="207.7" x2="57.7" y2="215.7" stroke="#b9b5b4" stroke-width="1.8"/>
<line x1="223.5" y1="275.6" x2="226.5" y2="283.6" stroke="#b9b5b4" stroke-width="1.8"/>
<line x1="93.4" y1="230.0" x2="89.4" y2="238.0" stroke="#b9b5b4" stroke-width="1.8"/>
<line x1="258.4" y1="254.4" x2="261.4" y2="262.4" stroke="#b9b5b4" stroke-width="1.8"/>
<line x1="125.2" y1="252.2" x2="121.2" y2="260.2" stroke="#b9b5b4" stroke-width="1.8"/>
<line x1="293.4" y1="233.1" x2="296.4" y2="241.1" stroke="#b9b5b4" stroke-width="1.8"/>
<line x1="156.9" y1="274.5" x2="152.9" y2="282.5" stroke="#b9b5b4" stroke-width="1.8"/>
<line x1="328.3" y1="211.9" x2="331.3" y2="219.9" stroke="#b9b5b4" stroke-width="1.8"/>
<line x1="188.6" y1="296.8" x2="184.6" y2="304.8" stroke="#b9b5b4" stroke-width="1.8"/>
<line x1="363.2" y1="190.7" x2="366.2" y2="198.7" stroke="#b9b5b4" stroke-width="1.8"/>
<line x1="188.6" y1="296.8" x2="183.6" y2="303.8" stroke="#b9b5b4" stroke-width="1.8"/>
<line x1="188.6" y1="296.8" x2="193.6" y2="303.8" stroke="#b9b5b4" stroke-width="1.8"/>
<g clip-path="url(#blob3)"><g filter="url(#cmS3)">
<rect x="40" y="60" width="300" height="210" fill="#808080"/>
<g filter="url(#hb)">
<ellipse cx="238.9" cy="105.0" rx="49.3" ry="23.6" fill="#a8a8a8" opacity="0.95"/>
<ellipse cx="241.1" cy="83.6" rx="23.6" ry="11.8" fill="#e6e6e6" opacity="1"/>
<ellipse cx="260.3" cy="96.4" rx="12.9" ry="12.9" fill="#cccccc" opacity="0.9"/>
<ellipse cx="82.5" cy="186.4" rx="30.0" ry="25.7" fill="#bdbdbd" opacity="1"/>
<ellipse cx="112.5" cy="214.3" rx="17.1" ry="11.8" fill="#d6d6d6" opacity="1"/>
<ellipse cx="95.3" cy="130.7" rx="27.9" ry="15.0" fill="#595959" opacity="1"/>
<ellipse cx="206.8" cy="173.6" rx="40.7" ry="21.4" fill="#5c5c5c" opacity="1"/>
<ellipse cx="155.3" cy="197.2" rx="15.0" ry="10.7" fill="#4f4f4f" opacity="1"/>
<ellipse cx="234.6" cy="246.4" rx="19.3" ry="8.6" fill="#3d3d3d" opacity="1"/>
<ellipse cx="260.3" cy="207.9" rx="30.0" ry="21.4" fill="#666666" opacity="0.9"/>
<ellipse cx="142.5" cy="156.4" rx="23.6" ry="12.9" fill="#6b6b6b" opacity="0.8"/>
<ellipse cx="181.1" cy="147.9" rx="23.6" ry="8.6" fill="#9e9e9e" opacity="0.9"/>
<ellipse cx="277.5" cy="165.0" rx="12.9" ry="17.1" fill="#8f8f8f" opacity="0.8"/>
<ellipse cx="174.6" cy="109.3" rx="27.9" ry="11.8" fill="#8c8c8c" opacity="0.7"/>
</g><g filter="url(#hbs)">
<ellipse cx="309.6" cy="141.4" rx="6.4" ry="17.1" fill="#bdbdbd" opacity="1"/>
<ellipse cx="63.2" cy="173.6" rx="9.6" ry="12.9" fill="#cccccc" opacity="0.9"/>
<ellipse cx="118.9" cy="120.0" rx="8.6" ry="6.0" fill="#383838" opacity="1"/>
<ellipse cx="151.1" cy="141.4" rx="3.4" ry="5.1" fill="#f2f2f2" opacity="1"/>
</g></g></g>
<g clip-path="url(#blob3)"><line x1="239.8" y1="60" x2="239.8" y2="270" stroke="#2a3040" stroke-width="1.1" opacity="0.75"/></g>
</g>
<text x="847.0" y="1252.6" font-size="25.8" fill="#fff" font-weight="bold" >PV: 0.075 5 <tspan font-style="italic">λ</tspan></text>
<text x="847.0" y="1280.5" font-size="25.8" fill="#fff" font-weight="bold" >RMS: 0.010 5 <tspan font-style="italic">λ</tspan></text>
<text x="865.5" y="1324.0" font-size="25" fill="#fff" font-weight="bold" >×10<tspan font-size="14.5" dy="-10">−2</tspan></text>
<text x="841.3" y="1358.8" font-size="25.4" fill="#fff" font-weight="bold" >4.27</text>
<text x="837.2" y="1428.0" font-size="25.4" fill="#fff" font-weight="bold" >−3.28</text>
<text x="843.2" y="1454.5" font-size="25.8" fill="#fff" font-weight="bold" transform="rotate(36.6 843.2 1454.5)" ><tspan font-style="italic">Y</tspan>: 1 024 pix</text>
<text x="1075.5" y="1534.0" font-size="25.8" fill="#fff" font-weight="bold" transform="rotate(-30.5 1075.5 1534.0)" ><tspan font-style="italic">X</tspan>: 1 024 pix</text>
<rect x="1216.2" y="1231.0" width="370.4" height="307.2" fill="#050101" stroke="#4a4646" stroke-width="1.2"/>
<g transform="translate(1216.7,1231.4)">
<line x1="198.6" y1="39.7" x2="24.6" y2="129.7" stroke="#b9b5b4" stroke-width="2.1"/>
<line x1="198.6" y1="39.7" x2="368.5" y2="143.6" stroke="#b9b5b4" stroke-width="2.1"/>
<line x1="24.6" y1="129.7" x2="30.0" y2="185.4" stroke="#b9b5b4" stroke-width="2.1"/>
<line x1="30.0" y1="185.4" x2="188.6" y2="296.8" stroke="#b9b5b4" stroke-width="2.1"/>
<line x1="188.6" y1="296.8" x2="363.2" y2="190.7" stroke="#b9b5b4" stroke-width="2.1"/>
<line x1="363.2" y1="190.7" x2="368.5" y2="143.6" stroke="#b9b5b4" stroke-width="2.1"/>
<line x1="198.6" y1="39.7" x2="198.6" y2="90.0" stroke="#b9b5b4" stroke-width="2.6"/>
<line x1="61.7" y1="207.7" x2="57.7" y2="215.7" stroke="#b9b5b4" stroke-width="1.8"/>
<line x1="223.5" y1="275.6" x2="226.5" y2="283.6" stroke="#b9b5b4" stroke-width="1.8"/>
<line x1="93.4" y1="230.0" x2="89.4" y2="238.0" stroke="#b9b5b4" stroke-width="1.8"/>
<line x1="258.4" y1="254.4" x2="261.4" y2="262.4" stroke="#b9b5b4" stroke-width="1.8"/>
<line x1="125.2" y1="252.2" x2="121.2" y2="260.2" stroke="#b9b5b4" stroke-width="1.8"/>
<line x1="293.4" y1="233.1" x2="296.4" y2="241.1" stroke="#b9b5b4" stroke-width="1.8"/>
<line x1="156.9" y1="274.5" x2="152.9" y2="282.5" stroke="#b9b5b4" stroke-width="1.8"/>
<line x1="328.3" y1="211.9" x2="331.3" y2="219.9" stroke="#b9b5b4" stroke-width="1.8"/>
<line x1="188.6" y1="296.8" x2="184.6" y2="304.8" stroke="#b9b5b4" stroke-width="1.8"/>
<line x1="363.2" y1="190.7" x2="366.2" y2="198.7" stroke="#b9b5b4" stroke-width="1.8"/>
<line x1="188.6" y1="296.8" x2="183.6" y2="303.8" stroke="#b9b5b4" stroke-width="1.8"/>
<line x1="188.6" y1="296.8" x2="193.6" y2="303.8" stroke="#b9b5b4" stroke-width="1.8"/>
<g clip-path="url(#blob4)"><g filter="url(#cmS4)">
<rect x="40" y="60" width="300" height="210" fill="#808080"/>
<g filter="url(#hb)">
<ellipse cx="238.9" cy="105.0" rx="49.3" ry="23.6" fill="#a8a8a8" opacity="0.95"/>
<ellipse cx="241.1" cy="83.6" rx="23.6" ry="11.8" fill="#e6e6e6" opacity="1"/>
<ellipse cx="260.3" cy="96.4" rx="12.9" ry="12.9" fill="#cccccc" opacity="0.9"/>
<ellipse cx="82.5" cy="186.4" rx="30.0" ry="25.7" fill="#bdbdbd" opacity="1"/>
<ellipse cx="112.5" cy="214.3" rx="17.1" ry="11.8" fill="#d6d6d6" opacity="1"/>
<ellipse cx="95.3" cy="130.7" rx="27.9" ry="15.0" fill="#595959" opacity="1"/>
<ellipse cx="206.8" cy="173.6" rx="40.7" ry="21.4" fill="#5c5c5c" opacity="1"/>
<ellipse cx="155.3" cy="197.2" rx="15.0" ry="10.7" fill="#4f4f4f" opacity="1"/>
<ellipse cx="234.6" cy="246.4" rx="19.3" ry="8.6" fill="#3d3d3d" opacity="1"/>
<ellipse cx="260.3" cy="207.9" rx="30.0" ry="21.4" fill="#666666" opacity="0.9"/>
<ellipse cx="142.5" cy="156.4" rx="23.6" ry="12.9" fill="#6b6b6b" opacity="0.8"/>
<ellipse cx="181.1" cy="147.9" rx="23.6" ry="8.6" fill="#9e9e9e" opacity="0.9"/>
<ellipse cx="277.5" cy="165.0" rx="12.9" ry="17.1" fill="#8f8f8f" opacity="0.8"/>
<ellipse cx="174.6" cy="109.3" rx="27.9" ry="11.8" fill="#8c8c8c" opacity="0.7"/>
</g><g filter="url(#hbs)">
<ellipse cx="309.6" cy="141.4" rx="6.4" ry="17.1" fill="#bdbdbd" opacity="1"/>
<ellipse cx="63.2" cy="173.6" rx="9.6" ry="12.9" fill="#cccccc" opacity="0.9"/>
<ellipse cx="118.9" cy="120.0" rx="8.6" ry="6.0" fill="#383838" opacity="1"/>
<ellipse cx="151.1" cy="141.4" rx="3.4" ry="5.1" fill="#f2f2f2" opacity="1"/>
</g></g></g>
<g clip-path="url(#blob4)"><line x1="109.6" y1="60" x2="109.6" y2="270" stroke="#2a3040" stroke-width="1.1" opacity="0.75"/></g>
<g clip-path="url(#blob4)"><line x1="240.7" y1="60" x2="240.7" y2="270" stroke="#2a3040" stroke-width="1.1" opacity="0.75"/></g>
</g>
<text x="1224.7" y="1252.6" font-size="25.8" fill="#fff" font-weight="bold" >PV: 0.076 0 <tspan font-style="italic">λ</tspan></text>
<text x="1224.7" y="1280.5" font-size="25.8" fill="#fff" font-weight="bold" >RMS: 0.010 8 <tspan font-style="italic">λ</tspan></text>
<text x="1233.5" y="1324.0" font-size="25" fill="#fff" font-weight="bold" >×10<tspan font-size="14.5" dy="-10">−2</tspan></text>
<text x="1219.0" y="1358.8" font-size="25.4" fill="#fff" font-weight="bold" >4.42</text>
<text x="1217.7" y="1428.0" font-size="25.4" fill="#fff" font-weight="bold" >−3.18</text>
<text x="1226.0" y="1454.5" font-size="25.8" fill="#fff" font-weight="bold" transform="rotate(36.6 1226.0 1454.5)" ><tspan font-style="italic">Y</tspan>: 1 024 pix</text>
<text x="1459.2" y="1534.0" font-size="25.8" fill="#fff" font-weight="bold" transform="rotate(-30.5 1459.2 1534.0)" ><tspan font-style="italic">X</tspan>: 1 024 pix</text>
<rect x="1595.9" y="1231.0" width="370.5" height="307.2" fill="#050101" stroke="#4a4646" stroke-width="1.2"/>
<g transform="translate(1596.4,1231.4)">
<line x1="198.6" y1="39.7" x2="24.6" y2="129.7" stroke="#b9b5b4" stroke-width="2.1"/>
<line x1="198.6" y1="39.7" x2="368.5" y2="143.6" stroke="#b9b5b4" stroke-width="2.1"/>
<line x1="24.6" y1="129.7" x2="30.0" y2="185.4" stroke="#b9b5b4" stroke-width="2.1"/>
<line x1="30.0" y1="185.4" x2="188.6" y2="296.8" stroke="#b9b5b4" stroke-width="2.1"/>
<line x1="188.6" y1="296.8" x2="363.2" y2="190.7" stroke="#b9b5b4" stroke-width="2.1"/>
<line x1="363.2" y1="190.7" x2="368.5" y2="143.6" stroke="#b9b5b4" stroke-width="2.1"/>
<line x1="198.6" y1="39.7" x2="198.6" y2="90.0" stroke="#b9b5b4" stroke-width="2.6"/>
<line x1="61.7" y1="207.7" x2="57.7" y2="215.7" stroke="#b9b5b4" stroke-width="1.8"/>
<line x1="223.5" y1="275.6" x2="226.5" y2="283.6" stroke="#b9b5b4" stroke-width="1.8"/>
<line x1="93.4" y1="230.0" x2="89.4" y2="238.0" stroke="#b9b5b4" stroke-width="1.8"/>
<line x1="258.4" y1="254.4" x2="261.4" y2="262.4" stroke="#b9b5b4" stroke-width="1.8"/>
<line x1="125.2" y1="252.2" x2="121.2" y2="260.2" stroke="#b9b5b4" stroke-width="1.8"/>
<line x1="293.4" y1="233.1" x2="296.4" y2="241.1" stroke="#b9b5b4" stroke-width="1.8"/>
<line x1="156.9" y1="274.5" x2="152.9" y2="282.5" stroke="#b9b5b4" stroke-width="1.8"/>
<line x1="328.3" y1="211.9" x2="331.3" y2="219.9" stroke="#b9b5b4" stroke-width="1.8"/>
<line x1="188.6" y1="296.8" x2="184.6" y2="304.8" stroke="#b9b5b4" stroke-width="1.8"/>
<line x1="363.2" y1="190.7" x2="366.2" y2="198.7" stroke="#b9b5b4" stroke-width="1.8"/>
<line x1="188.6" y1="296.8" x2="183.6" y2="303.8" stroke="#b9b5b4" stroke-width="1.8"/>
<line x1="188.6" y1="296.8" x2="193.6" y2="303.8" stroke="#b9b5b4" stroke-width="1.8"/>
<g clip-path="url(#blob5)"><g filter="url(#cmS5)">
<rect x="40" y="60" width="300" height="210" fill="#808080"/>
<g filter="url(#hb)">
<ellipse cx="238.9" cy="105.0" rx="49.3" ry="23.6" fill="#a8a8a8" opacity="0.95"/>
<ellipse cx="241.1" cy="83.6" rx="23.6" ry="11.8" fill="#e6e6e6" opacity="1"/>
<ellipse cx="260.3" cy="96.4" rx="12.9" ry="12.9" fill="#cccccc" opacity="0.9"/>
<ellipse cx="82.5" cy="186.4" rx="30.0" ry="25.7" fill="#bdbdbd" opacity="1"/>
<ellipse cx="112.5" cy="214.3" rx="17.1" ry="11.8" fill="#d6d6d6" opacity="1"/>
<ellipse cx="95.3" cy="130.7" rx="27.9" ry="15.0" fill="#595959" opacity="1"/>
<ellipse cx="206.8" cy="173.6" rx="40.7" ry="21.4" fill="#5c5c5c" opacity="1"/>
<ellipse cx="155.3" cy="197.2" rx="15.0" ry="10.7" fill="#4f4f4f" opacity="1"/>
<ellipse cx="234.6" cy="246.4" rx="19.3" ry="8.6" fill="#3d3d3d" opacity="1"/>
<ellipse cx="260.3" cy="207.9" rx="30.0" ry="21.4" fill="#666666" opacity="0.9"/>
<ellipse cx="142.5" cy="156.4" rx="23.6" ry="12.9" fill="#6b6b6b" opacity="0.8"/>
<ellipse cx="181.1" cy="147.9" rx="23.6" ry="8.6" fill="#9e9e9e" opacity="0.9"/>
<ellipse cx="277.5" cy="165.0" rx="12.9" ry="17.1" fill="#8f8f8f" opacity="0.8"/>
<ellipse cx="174.6" cy="109.3" rx="27.9" ry="11.8" fill="#8c8c8c" opacity="0.7"/>
</g><g filter="url(#hbs)">
<ellipse cx="309.6" cy="141.4" rx="6.4" ry="17.1" fill="#bdbdbd" opacity="1"/>
<ellipse cx="63.2" cy="173.6" rx="9.6" ry="12.9" fill="#cccccc" opacity="0.9"/>
<ellipse cx="118.9" cy="120.0" rx="8.6" ry="6.0" fill="#383838" opacity="1"/>
<ellipse cx="151.1" cy="141.4" rx="3.4" ry="5.1" fill="#f2f2f2" opacity="1"/>
</g></g></g>
<g clip-path="url(#blob5)"><line x1="178.3" y1="60" x2="178.3" y2="270" stroke="#2a3040" stroke-width="1.1" opacity="0.75"/></g>
</g>
<text x="1603.9" y="1252.6" font-size="25.8" fill="#fff" font-weight="bold" >PV: 0.075 8 <tspan font-style="italic">λ</tspan></text>
<text x="1603.9" y="1280.5" font-size="25.8" fill="#fff" font-weight="bold" >RMS: 0.010 5 <tspan font-style="italic">λ</tspan></text>
<text x="1621.3" y="1324.0" font-size="25" fill="#fff" font-weight="bold" >×10<tspan font-size="14.5" dy="-10">−2</tspan></text>
<text x="1598.2" y="1358.8" font-size="25.4" fill="#fff" font-weight="bold" >4.31</text>
<text x="1596.2" y="1428.0" font-size="25.4" fill="#fff" font-weight="bold" >−3.27</text>
<text x="1604.6" y="1454.5" font-size="25.8" fill="#fff" font-weight="bold" transform="rotate(36.6 1604.6 1454.5)" ><tspan font-style="italic">Y</tspan>: 1 024 pix</text>
<text x="1837.2" y="1534.0" font-size="25.8" fill="#fff" font-weight="bold" transform="rotate(-30.5 1837.2 1534.0)" ><tspan font-style="italic">X</tspan>: 1 024 pix</text>
<rect x="2049.5" y="934.8" width="27.4" height="224.9" fill="#0a0405"/>
<rect x="2054.7" y="942.2" width="17.0" height="213.1" fill="url(#cbJet)"/>
<text x="2042.3" y="950.4" font-size="28.5" fill="#231815" font-weight="bold" text-anchor="end" >π</text>
<text x="2042.3" y="1152.4" font-size="28.5" fill="#231815" font-weight="bold" text-anchor="end" >−π</text>
<rect x="2046.0" y="1259.3" width="26.6" height="224.7" fill="#0a0405"/>
<rect x="2051.2" y="1267.8" width="16.2" height="211.2" fill="url(#cbJet)"/>
<text x="2040.6" y="1277.5" font-size="29.2" fill="#231815" font-weight="bold" text-anchor="end" >4.42</text>
<text x="2040.6" y="1479.0" font-size="29.2" fill="#231815" font-weight="bold" text-anchor="end" >−3.39</text>
<text x="1982.8" y="1524.6" font-size="29.2" fill="#231815" font-weight="bold" >×10<tspan font-size="17" dy="-11">−2</tspan><tspan dy="11"> </tspan><tspan font-style="italic">λ</tspan></text>
<text x="18.6" y="1627.8" font-size="36.5" fill="#231815" font-weight="bold" >(c)</text>
<text x="261.6" y="1644.8" font-size="33.3" fill="#000" font-weight="bold" textLength="617.5" lengthAdjust="spacingAndGlyphs" >Surface profile correlation coefficients</text>
<rect x="186.2" y="1729.2" width="120.9" height="97.2" fill="none" stroke="#f4f4f4" stroke-width="1.6"/>
<rect x="186.2" y="1826.4" width="120.9" height="97.2" fill="none" stroke="#f4f4f4" stroke-width="1.6"/>
<rect x="307.1" y="1826.4" width="120.9" height="97.2" fill="none" stroke="#f4f4f4" stroke-width="1.6"/>
<rect x="186.2" y="1923.6" width="120.9" height="97.2" fill="none" stroke="#f4f4f4" stroke-width="1.6"/>
<rect x="307.1" y="1923.6" width="120.9" height="97.2" fill="none" stroke="#f4f4f4" stroke-width="1.6"/>
<rect x="428.0" y="1923.6" width="120.9" height="97.2" fill="none" stroke="#f4f4f4" stroke-width="1.6"/>
<rect x="186.2" y="2020.8" width="120.9" height="97.2" fill="none" stroke="#f4f4f4" stroke-width="1.6"/>
<rect x="307.1" y="2020.8" width="120.9" height="97.2" fill="none" stroke="#f4f4f4" stroke-width="1.6"/>
<rect x="428.0" y="2020.8" width="120.9" height="97.2" fill="none" stroke="#f4f4f4" stroke-width="1.6"/>
<rect x="548.9" y="2020.8" width="120.9" height="97.2" fill="none" stroke="#f4f4f4" stroke-width="1.6"/>
<rect x="186.2" y="2118.0" width="120.9" height="97.2" fill="none" stroke="#f4f4f4" stroke-width="1.6"/>
<rect x="307.1" y="2118.0" width="120.9" height="97.2" fill="none" stroke="#f4f4f4" stroke-width="1.6"/>
<rect x="428.0" y="2118.0" width="120.9" height="97.2" fill="none" stroke="#f4f4f4" stroke-width="1.6"/>
<rect x="548.9" y="2118.0" width="120.9" height="97.2" fill="none" stroke="#f4f4f4" stroke-width="1.6"/>
<rect x="669.8" y="2118.0" width="120.9" height="97.2" fill="none" stroke="#f4f4f4" stroke-width="1.6"/>
<rect x="186.2" y="2215.2" width="120.9" height="97.2" fill="none" stroke="#f4f4f4" stroke-width="1.6"/>
<rect x="307.1" y="2215.2" width="120.9" height="97.2" fill="none" stroke="#f4f4f4" stroke-width="1.6"/>
<rect x="428.0" y="2215.2" width="120.9" height="97.2" fill="none" stroke="#f4f4f4" stroke-width="1.6"/>
<rect x="548.9" y="2215.2" width="120.9" height="97.2" fill="none" stroke="#f4f4f4" stroke-width="1.6"/>
<rect x="669.8" y="2215.2" width="120.9" height="97.2" fill="none" stroke="#f4f4f4" stroke-width="1.6"/>
<rect x="790.7" y="2215.2" width="120.9" height="97.2" fill="none" stroke="#f4f4f4" stroke-width="1.6"/>
<circle cx="246.5" cy="1778.0" r="44.0" fill="#aa76b8"/>
<text x="247.0" y="1787.8" font-size="28.6" fill="#231815" font-weight="bold" text-anchor="middle" >1.0</text>
<circle cx="246.5" cy="1875.2" r="41.8" fill="#9695cc"/>
<text x="247.0" y="1885.0" font-size="28.6" fill="#231815" font-weight="bold" text-anchor="middle" >0.92</text>
<circle cx="367.4" cy="1875.2" r="44.0" fill="#aa76b8"/>
<text x="367.9" y="1885.0" font-size="28.6" fill="#231815" font-weight="bold" text-anchor="middle" >1.0</text>
<circle cx="246.5" cy="1972.4" r="41.5" fill="#929acf"/>
<text x="247.0" y="1982.2" font-size="28.6" fill="#231815" font-weight="bold" text-anchor="middle" >0.91</text>
<circle cx="367.4" cy="1972.4" r="39.0" fill="#60c4e7"/>
<text x="367.9" y="1982.2" font-size="28.6" fill="#231815" font-weight="bold" text-anchor="middle" >0.83</text>
<circle cx="488.3" cy="1972.4" r="44.0" fill="#aa76b8"/>
<text x="488.8" y="1982.2" font-size="28.6" fill="#231815" font-weight="bold" text-anchor="middle" >1.0</text>
<circle cx="246.5" cy="2069.6" r="42.8" fill="#a086c2"/>
<text x="247.0" y="2079.4" font-size="28.6" fill="#231815" font-weight="bold" text-anchor="middle" >0.95</text>
<circle cx="367.4" cy="2069.6" r="38.7" fill="#60c4e5"/>
<text x="367.9" y="2079.4" font-size="28.6" fill="#231815" font-weight="bold" text-anchor="middle" >0.82</text>
<circle cx="488.3" cy="2069.6" r="39.9" fill="#69bce7"/>
<text x="488.8" y="2079.4" font-size="28.6" fill="#231815" font-weight="bold" text-anchor="middle" >0.86</text>
<circle cx="609.2" cy="2069.6" r="44.0" fill="#aa76b8"/>
<text x="609.7" y="2079.4" font-size="28.6" fill="#231815" font-weight="bold" text-anchor="middle" >1.0</text>
<circle cx="246.5" cy="2166.8" r="41.5" fill="#929acf"/>
<text x="247.0" y="2176.6" font-size="28.6" fill="#231815" font-weight="bold" text-anchor="middle" >0.91</text>
<circle cx="367.4" cy="2166.8" r="38.0" fill="#5ec6e2"/>
<text x="367.9" y="2176.6" font-size="28.6" fill="#231815" font-weight="bold" text-anchor="middle" >0.80</text>
<circle cx="488.3" cy="2166.8" r="37.7" fill="#5ec6e0"/>
<text x="488.8" y="2176.6" font-size="28.6" fill="#231815" font-weight="bold" text-anchor="middle" >0.79</text>
<circle cx="609.2" cy="2166.8" r="38.7" fill="#60c4e5"/>
<text x="609.7" y="2176.6" font-size="28.6" fill="#231815" font-weight="bold" text-anchor="middle" >0.82</text>
<circle cx="730.1" cy="2166.8" r="44.0" fill="#aa76b8"/>
<text x="730.6" y="2176.6" font-size="28.6" fill="#231815" font-weight="bold" text-anchor="middle" >1.0</text>
<circle cx="246.5" cy="2264.0" r="42.2" fill="#9a90c8"/>
<text x="247.0" y="2273.8" font-size="28.6" fill="#231815" font-weight="bold" text-anchor="middle" >0.93</text>
<circle cx="367.4" cy="2264.0" r="37.4" fill="#5ec6de"/>
<text x="367.9" y="2273.8" font-size="28.6" fill="#231815" font-weight="bold" text-anchor="middle" >0.78</text>
<circle cx="488.3" cy="2264.0" r="39.6" fill="#62c2ea"/>
<text x="488.8" y="2273.8" font-size="28.6" fill="#231815" font-weight="bold" text-anchor="middle" >0.85</text>
<circle cx="609.2" cy="2264.0" r="42.2" fill="#9a90c8"/>
<text x="609.7" y="2273.8" font-size="28.6" fill="#231815" font-weight="bold" text-anchor="middle" >0.93</text>
<circle cx="730.1" cy="2264.0" r="38.7" fill="#60c4e5"/>
<text x="730.6" y="2273.8" font-size="28.6" fill="#231815" font-weight="bold" text-anchor="middle" >0.82</text>
<circle cx="851.0" cy="2264.0" r="44.0" fill="#aa76b8"/>
<text x="851.5" y="2273.8" font-size="28.6" fill="#231815" font-weight="bold" text-anchor="middle" >1.0</text>
<line x1="186.2" y1="1728.5" x2="186.2" y2="2313.5" stroke="#4c4848" stroke-width="2.2"/>
<line x1="185.1" y1="2312.5" x2="912" y2="2312.5" stroke="#4c4848" stroke-width="2.2"/>
<text x="169.8" y="1791.8" font-size="29.2" fill="#231815" font-weight="bold" text-anchor="end" >GT</text>
<text x="169.8" y="1886.2" font-size="29.2" fill="#231815" font-weight="bold" text-anchor="end" ><tspan font-style="italic">δ</tspan><tspan font-size="0.62em" dy="0.22em">t1</tspan><tspan dy="-0.136em"> = 0</tspan></text>
<text x="169.8" y="1983.4" font-size="29.2" fill="#231815" font-weight="bold" text-anchor="end" ><tspan font-style="italic">δ</tspan><tspan font-size="0.62em" dy="0.22em">t2</tspan><tspan dy="-0.136em"> = π/2</tspan></text>
<text x="169.8" y="2080.6" font-size="29.2" fill="#231815" font-weight="bold" text-anchor="end" ><tspan font-style="italic">δ</tspan><tspan font-size="0.62em" dy="0.22em">t3</tspan><tspan dy="-0.136em"> = π</tspan></text>
<text x="169.8" y="2177.8" font-size="29.2" fill="#231815" font-weight="bold" text-anchor="end" ><tspan font-style="italic">δ</tspan><tspan font-size="0.62em" dy="0.22em">t4</tspan><tspan dy="-0.136em"> = 3π/2</tspan></text>
<text x="169.8" y="2275.0" font-size="29.2" fill="#231815" font-weight="bold" text-anchor="end" ><tspan font-style="italic">δ</tspan><tspan font-size="0.62em" dy="0.22em">t5</tspan><tspan dy="-0.136em"> = 2π</tspan></text>
<text x="253.8" y="1711.5" font-size="29.2" fill="#231815" font-weight="bold" text-anchor="middle" >GT</text>
<text x="331.5" y="1805.4" font-size="29.2" fill="#231815" font-weight="bold" ><tspan font-style="italic">δ</tspan><tspan font-size="0.62em" dy="0.22em">t1</tspan><tspan dy="-0.136em"> = 0</tspan></text>
<text x="448.0" y="1901.5" font-size="29.2" fill="#231815" font-weight="bold" ><tspan font-style="italic">δ</tspan><tspan font-size="0.62em" dy="0.22em">t2</tspan><tspan dy="-0.136em"> = π/2</tspan></text>
<text x="564.9" y="1999.0" font-size="29.2" fill="#231815" font-weight="bold" ><tspan font-style="italic">δ</tspan><tspan font-size="0.62em" dy="0.22em">t3</tspan><tspan dy="-0.136em"> = π</tspan></text>
<text x="684.6" y="2094.0" font-size="29.2" fill="#231815" font-weight="bold" ><tspan font-style="italic">δ</tspan><tspan font-size="0.62em" dy="0.22em">t4</tspan><tspan dy="-0.136em"> = 3π/2</tspan></text>
<text x="807.4" y="2194.0" font-size="29.2" fill="#231815" font-weight="bold" ><tspan font-style="italic">δ</tspan><tspan font-size="0.62em" dy="0.22em">t5</tspan><tspan dy="-0.136em"> = 2π</tspan></text>
<rect x="920.9" y="1738.5" width="41" height="565.4" fill="url(#cbC)" stroke="#6c6a6c" stroke-width="1.8"/>
<line x1="962" y1="1738.5" x2="973.5" y2="1738.5" stroke="#6c6a6c" stroke-width="2"/>
<text x="984.0" y="1745.9" font-size="28.6" fill="#231815" font-weight="bold" >1.00</text>
<line x1="962" y1="1832.7" x2="973.5" y2="1832.7" stroke="#6c6a6c" stroke-width="2"/>
<text x="984.0" y="1839.3" font-size="28.6" fill="#231815" font-weight="bold" >0.95</text>
<line x1="962" y1="1927.0" x2="973.5" y2="1927.0" stroke="#6c6a6c" stroke-width="2"/>
<text x="984.0" y="1932.7" font-size="28.6" fill="#231815" font-weight="bold" >0.90</text>
<line x1="962" y1="2021.2" x2="973.5" y2="2021.2" stroke="#6c6a6c" stroke-width="2"/>
<text x="984.0" y="2026.1" font-size="28.6" fill="#231815" font-weight="bold" >0.85</text>
<line x1="962" y1="2115.4" x2="973.5" y2="2115.4" stroke="#6c6a6c" stroke-width="2"/>
<text x="984.0" y="2119.5" font-size="28.6" fill="#231815" font-weight="bold" >0.80</text>
<line x1="962" y1="2209.7" x2="973.5" y2="2209.7" stroke="#6c6a6c" stroke-width="2"/>
<text x="984.0" y="2212.9" font-size="28.6" fill="#231815" font-weight="bold" >0.75</text>
<line x1="962" y1="2303.9" x2="973.5" y2="2303.9" stroke="#6c6a6c" stroke-width="2"/>
<text x="984.0" y="2306.3" font-size="28.6" fill="#231815" font-weight="bold" >0.70</text>
<text x="1138.8" y="1627.5" font-size="36.5" fill="#231815" font-weight="bold" >(d)</text>
<text x="1476.6" y="1643.7" font-size="33.3" fill="#000" font-weight="bold" textLength="306.8" lengthAdjust="spacingAndGlyphs" >Surface error value</text>
<rect x="1288.6" y="1710.5" width="721.7" height="565.9" fill="url(#bgD)"/>
<line x1="1360.3" y1="1911.0" x2="1360.3" y2="2078.8" stroke="#e5545a" stroke-width="1.8"/>
<path d="M1358.1 1800.5 Q1360.3 1795.5 1362.5 1800.5 L1363.7 1827.5 L1365.1 1849.5 L1365.1 1909.0 Q1360.3 1917.0 1355.5 1909.0 L1355.5 1849.5 L1356.8999999999999 1827.5 Z" fill="#e8222a"/>
<line x1="1360.3" y1="2076.8" x2="1360.3" y2="2127.2" stroke="#e8222a" stroke-width="9.6" stroke-linecap="round"/>
<line x1="1336.5" y1="1911.0" x2="1384.1" y2="1911.0" stroke="#e5545a" stroke-width="1.8"/>
<line x1="1336.5" y1="2078.8" x2="1384.1" y2="2078.8" stroke="#e5545a" stroke-width="1.8"/>
<rect x="1313.4" y="1973.5" width="94.3" height="42.8" fill="#f2a6aa" stroke="#e5545a" stroke-width="2.2"/>
<line x1="1313.4" y1="1995.8" x2="1407.7" y2="1995.8" stroke="#e5545a" stroke-width="2.2"/>
<rect x="1357.3" y="1988.0" width="6" height="6" fill="none" stroke="#e5545a" stroke-width="0.9" opacity="0.8"/>
<line x1="1504.3" y1="1905.9" x2="1504.3" y2="2082.6" stroke="#4a78aa" stroke-width="1.8"/>
<line x1="1504.3" y1="1795.3" x2="1504.3" y2="1907.9" stroke="#3a6a9c" stroke-width="9.6" stroke-linecap="round"/>
<line x1="1504.3" y1="2080.6" x2="1504.3" y2="2160.2" stroke="#3a6a9c" stroke-width="9.6" stroke-linecap="round"/>
<line x1="1480.5" y1="1905.9" x2="1528.1" y2="1905.9" stroke="#4a78aa" stroke-width="1.8"/>
<line x1="1480.5" y1="2082.6" x2="1528.1" y2="2082.6" stroke="#4a78aa" stroke-width="1.8"/>
<rect x="1457.6" y="1971.8" width="94.0" height="44.5" fill="#a9c2dc" stroke="#4a78aa" stroke-width="2.2"/>
<line x1="1457.6" y1="1995.3" x2="1551.6" y2="1995.3" stroke="#4a78aa" stroke-width="2.2"/>
<rect x="1501.3" y="1988.0" width="6" height="6" fill="none" stroke="#4a78aa" stroke-width="0.9" opacity="0.8"/>
<line x1="1648.9" y1="1897.2" x2="1648.9" y2="2088.3" stroke="#f3bd48" stroke-width="1.8"/>
<line x1="1648.9" y1="1822.3" x2="1648.9" y2="1899.2" stroke="#f5b62a" stroke-width="7.6" stroke-linecap="round"/>
<line x1="1648.9" y1="2086.3" x2="1648.9" y2="2191.7" stroke="#f5b62a" stroke-width="7.6" stroke-linecap="round"/>
<line x1="1625.1000000000001" y1="1897.2" x2="1672.7" y2="1897.2" stroke="#f3bd48" stroke-width="1.8"/>
<line x1="1625.1000000000001" y1="2088.3" x2="1672.7" y2="2088.3" stroke="#f3bd48" stroke-width="1.8"/>
<rect x="1601.6" y="1968.4" width="95.2" height="48.2" fill="#f9dca0" stroke="#f3bd48" stroke-width="2.2"/>
<line x1="1601.6" y1="1993.2" x2="1696.8" y2="1993.2" stroke="#f3bd48" stroke-width="2.2"/>
<rect x="1645.9" y="1988.0" width="6" height="6" fill="none" stroke="#f3bd48" stroke-width="0.9" opacity="0.8"/>
<line x1="1793.0" y1="1907.0" x2="1793.0" y2="2079.8" stroke="#52bb7c" stroke-width="1.8"/>
<line x1="1793.0" y1="1793.8" x2="1793.0" y2="1909.0" stroke="#3fb56e" stroke-width="9.6" stroke-linecap="round"/>
<line x1="1793.0" y1="2077.8" x2="1793.0" y2="2161.2" stroke="#3fb56e" stroke-width="9.6" stroke-linecap="round"/>
<line x1="1769.2" y1="1907.0" x2="1816.8" y2="1907.0" stroke="#52bb7c" stroke-width="1.8"/>
<line x1="1769.2" y1="2079.8" x2="1816.8" y2="2079.8" stroke="#52bb7c" stroke-width="1.8"/>
<rect x="1746.0" y="1971.6" width="94.6" height="43.8" fill="#a8dcc0" stroke="#52bb7c" stroke-width="2.2"/>
<line x1="1746.0" y1="1993.5" x2="1840.6" y2="1993.5" stroke="#52bb7c" stroke-width="2.2"/>
<rect x="1790.0" y="1988.0" width="6" height="6" fill="none" stroke="#52bb7c" stroke-width="0.9" opacity="0.8"/>
<line x1="1937.6" y1="1896.5" x2="1937.6" y2="2093.6" stroke="#6a6e9e" stroke-width="1.8"/>
<line x1="1937.6" y1="1793.8" x2="1937.6" y2="1898.5" stroke="#565c92" stroke-width="9.6" stroke-linecap="round"/>
<line x1="1937.6" y1="2091.6" x2="1937.6" y2="2158.2" stroke="#565c92" stroke-width="9.6" stroke-linecap="round"/>
<line x1="1913.8" y1="1896.5" x2="1961.3999999999999" y2="1896.5" stroke="#6a6e9e" stroke-width="1.8"/>
<line x1="1913.8" y1="2093.6" x2="1961.3999999999999" y2="2093.6" stroke="#6a6e9e" stroke-width="1.8"/>
<rect x="1891.0" y="1969.4" width="94.2" height="50.2" fill="#b4b6cf" stroke="#6a6e9e" stroke-width="2.2"/>
<line x1="1891.0" y1="1997.3" x2="1985.2" y2="1997.3" stroke="#6a6e9e" stroke-width="2.2"/>
<rect x="1934.6" y="1988.0" width="6" height="6" fill="none" stroke="#6a6e9e" stroke-width="0.9" opacity="0.8"/>
<line x1="1288.6" y1="2211.8" x2="2010.3" y2="2211.8" stroke="#3e3a3a" stroke-width="2"/>
<line x1="1288.6" y1="2245.4" x2="2010.3" y2="2245.4" stroke="#3e3a3a" stroke-width="2"/>
<line x1="1433.7" y1="2245.4" x2="1433.7" y2="2281.5" stroke="#3e3a3a" stroke-width="2"/>
<line x1="1577.8" y1="2245.4" x2="1577.8" y2="2281.5" stroke="#3e3a3a" stroke-width="2"/>
<line x1="1722.4" y1="2245.4" x2="1722.4" y2="2281.5" stroke="#3e3a3a" stroke-width="2"/>
<line x1="1867.0" y1="2245.4" x2="1867.0" y2="2281.5" stroke="#3e3a3a" stroke-width="2"/>
<text x="1671.4" y="2236.7" font-size="29.2" fill="#231815" font-weight="bold" text-anchor="middle" >MSPE/nm</text>
<text x="1367.5" y="2268.3" font-size="29.2" fill="#231815" font-weight="bold" text-anchor="middle" >4.345 6</text>
<text x="1512.2" y="2268.3" font-size="29.2" fill="#231815" font-weight="bold" text-anchor="middle" >4.563 1</text>
<text x="1655.7" y="2268.3" font-size="29.2" fill="#231815" font-weight="bold" text-anchor="middle" >4.481 8</text>
<text x="1800.3" y="2268.3" font-size="29.2" fill="#231815" font-weight="bold" text-anchor="middle" >4.449 9</text>
<text x="1944.9" y="2268.3" font-size="29.2" fill="#231815" font-weight="bold" text-anchor="middle" >4.345 6</text>
<rect x="1288.6" y="1710.5" width="721.7" height="565.9" fill="none" stroke="#3e3a3a" stroke-width="2.4"/>
<line x1="1277.2" y1="1710.5" x2="1288.6" y2="1710.5" stroke="#3e3a3a" stroke-width="2.2"/>
<text x="1270.8" y="1720.8" font-size="29.2" fill="#231815" font-weight="bold" text-anchor="end" >0.010</text>
<line x1="1277.2" y1="1852.0" x2="1288.6" y2="1852.0" stroke="#3e3a3a" stroke-width="2.2"/>
<text x="1270.8" y="1862.2" font-size="29.2" fill="#231815" font-weight="bold" text-anchor="end" >0.005</text>
<line x1="1277.2" y1="1993.4" x2="1288.6" y2="1993.4" stroke="#3e3a3a" stroke-width="2.2"/>
<text x="1270.8" y="2003.7" font-size="29.2" fill="#231815" font-weight="bold" text-anchor="end" >0.000</text>
<line x1="1277.2" y1="2134.8" x2="1288.6" y2="2134.8" stroke="#3e3a3a" stroke-width="2.2"/>
<text x="1270.8" y="2145.2" font-size="29.2" fill="#231815" font-weight="bold" text-anchor="end" >−0.005</text>
<line x1="1277.2" y1="2276.3" x2="1288.6" y2="2276.3" stroke="#3e3a3a" stroke-width="2.2"/>
<text x="1270.8" y="2286.6" font-size="29.2" fill="#231815" font-weight="bold" text-anchor="end" >−0.010</text>
<line x1="1360.3" y1="2276.4" x2="1360.3" y2="2287" stroke="#3e3a3a" stroke-width="2.2"/>
<text x="1358.6" y="2317.6" font-size="29.6" fill="#231815" font-weight="bold" text-anchor="middle" ><tspan font-style="italic">δ</tspan><tspan font-size="0.62em" dy="0.22em">t1</tspan><tspan dy="-0.136em"> = 0</tspan></text>
<line x1="1504.3" y1="2276.4" x2="1504.3" y2="2287" stroke="#3e3a3a" stroke-width="2.2"/>
<text x="1503.0" y="2317.6" font-size="29.6" fill="#231815" font-weight="bold" text-anchor="middle" ><tspan font-style="italic">δ</tspan><tspan font-size="0.62em" dy="0.22em">t2</tspan><tspan dy="-0.136em"> = π/2</tspan></text>
<line x1="1648.9" y1="2276.4" x2="1648.9" y2="2287" stroke="#3e3a3a" stroke-width="2.2"/>
<text x="1647.0" y="2317.6" font-size="29.6" fill="#231815" font-weight="bold" text-anchor="middle" ><tspan font-style="italic">δ</tspan><tspan font-size="0.62em" dy="0.22em">t3</tspan><tspan dy="-0.136em"> = π</tspan></text>
<line x1="1793.0" y1="2276.4" x2="1793.0" y2="2287" stroke="#3e3a3a" stroke-width="2.2"/>
<text x="1791.9" y="2317.6" font-size="29.6" fill="#231815" font-weight="bold" text-anchor="middle" ><tspan font-style="italic">δ</tspan><tspan font-size="0.62em" dy="0.22em">t4</tspan><tspan dy="-0.136em"> = 3π/2</tspan></text>
<line x1="1937.6" y1="2276.4" x2="1937.6" y2="2287" stroke="#3e3a3a" stroke-width="2.2"/>
<text x="1936.0" y="2317.6" font-size="29.6" fill="#231815" font-weight="bold" text-anchor="middle" ><tspan font-style="italic">δ</tspan><tspan font-size="0.62em" dy="0.22em">t5</tspan><tspan dy="-0.136em"> = 2π</tspan></text>
<text x="1182.6" y="1959.2" font-size="31" fill="#000" font-weight="bold" text-anchor="middle" transform="rotate(-90 1182.6 1959.2)" >Error/<tspan font-style="italic">λ</tspan></text>
</svg>
</body></html>
